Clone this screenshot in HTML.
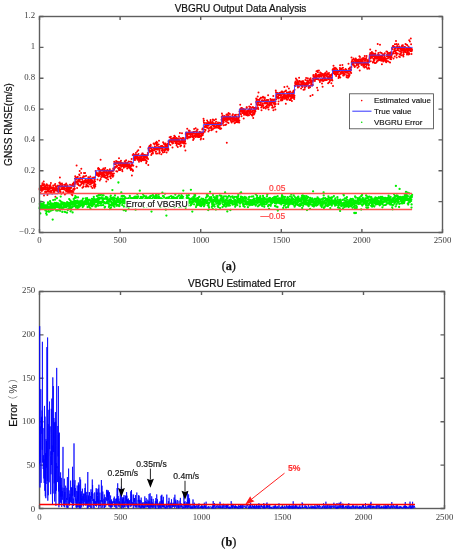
<!DOCTYPE html><html><head><meta charset="utf-8"><style>html,body{margin:0;padding:0;background:#fff;}svg{display:block;}.tk{font-family:"Liberation Serif",serif;font-size:8.8px;fill:#3c3c3c;}.ti{font-family:"Liberation Sans",sans-serif;font-size:10px;fill:#111;stroke:#111;stroke-width:0.2px;}.lg{font-family:"Liberation Sans",sans-serif;font-size:8px;fill:#111;stroke:#111;stroke-width:0.15px;}.an{font-family:"Liberation Sans",sans-serif;font-size:8.6px;fill:#1a1a1a;stroke:#1a1a1a;stroke-width:0.2px;}</style></head><body><svg width="455" height="550" viewBox="0 0 455 550"><rect width="455" height="550" fill="#fff"/><path d="M39.5 188.9h0M39.7 189.8h0M39.8 188.1h0M40 186.3h0M40.1 187.6h0M40.3 186h0M40.5 189.1h0M40.6 192.9h0M40.8 206.6h0M40.9 187.1h0M41.1 190.4h0M41.3 190h0M41.4 189.2h0M41.6 186.1h0M41.7 188.8h0M41.9 191h0M42.1 184.9h0M42.2 187.6h0M42.4 183.2h0M42.6 185.1h0M42.7 183.4h0M42.9 188.2h0M43 185.1h0M43.2 189.7h0M43.4 189.4h0M43.5 188.4h0M43.7 181.4h0M43.8 187.3h0M44 195.6h0M44.2 189.3h0M44.3 184.3h0M44.5 187.5h0M44.6 186h0M44.8 186.5h0M45 192.1h0M45.1 186.5h0M45.3 188.8h0M45.4 191.6h0M45.6 187.2h0M45.8 188.6h0M45.9 189.3h0M46.1 189.1h0M46.2 185.3h0M46.4 189.2h0M46.6 193h0M46.7 184.3h0M46.9 191.5h0M47.1 189.3h0M47.2 187h0M47.4 194.9h0M47.5 191.2h0M47.7 185.3h0M47.9 189.2h0M48 190.7h0M48.2 188.4h0M48.3 191h0M48.5 188.7h0M48.7 190.9h0M48.8 193.2h0M49 186.9h0M49.1 189.5h0M49.3 187.5h0M49.5 189.3h0M49.6 185.4h0M49.8 187.2h0M49.9 188.3h0M50.1 191.6h0M50.3 192.4h0M50.4 185h0M50.6 186.5h0M50.7 190.9h0M50.9 183h0M51.1 187.5h0M51.2 188.6h0M51.4 192.7h0M51.6 191h0M51.7 187.9h0M51.9 187.8h0M52 188.2h0M52.2 193.5h0M52.4 187.6h0M52.5 188h0M52.7 190h0M52.8 188.6h0M53 188.3h0M53.2 185.6h0M53.3 188.9h0M53.5 187.6h0M53.6 192.4h0M53.8 190.9h0M54 188.9h0M54.1 190.9h0M54.3 187.9h0M54.4 192.1h0M54.6 188.9h0M54.8 190.7h0M54.9 185.1h0M55.1 190h0M55.2 183.9h0M55.4 196.8h0M55.6 188h0M55.7 186.2h0M55.9 189.4h0M56 189.4h0M56.2 186.4h0M56.4 187.1h0M56.5 189.5h0M56.7 190.4h0M56.9 188.4h0M57 188.3h0M57.2 191h0M57.3 190.5h0M57.5 185.8h0M57.7 188.7h0M57.8 189h0M58 185.8h0M58.1 189.7h0M58.3 186.5h0M58.5 192.3h0M58.6 189.8h0M58.8 189.5h0M58.9 187.3h0M59.1 188.8h0M59.3 182.8h0M59.4 185.6h0M59.6 190.4h0M59.7 182.4h0M59.9 177.4h0M60.1 183.6h0M60.2 191.6h0M60.4 186.5h0M60.5 191.7h0M60.7 189.6h0M60.9 184.3h0M61 193.2h0M61.2 193.8h0M61.4 189h0M61.5 188.3h0M61.7 188.7h0M61.8 186.1h0M62 183.6h0M62.2 187.5h0M62.3 189.1h0M62.5 186.7h0M62.6 187.2h0M62.8 185.1h0M63 193.2h0M63.1 188.7h0M63.3 192.3h0M63.4 189.3h0M63.6 187h0M63.8 188.2h0M63.9 187.4h0M64.1 189.2h0M64.2 188h0M64.4 188.3h0M64.6 184.8h0M64.7 186.6h0M64.9 194.5h0M65 185.5h0M65.2 185.8h0M65.4 190.3h0M65.5 193.7h0M65.7 184.6h0M65.9 188.5h0M66 184.7h0M66.2 183.6h0M66.3 191.6h0M66.5 189.1h0M66.7 189.4h0M66.8 186.8h0M67 190.7h0M67.1 187.5h0M67.3 188.8h0M67.5 185.7h0M67.6 185.3h0M67.8 192h0M67.9 187.6h0M68.1 190.1h0M68.3 189.1h0M68.4 187.8h0M68.6 187.6h0M68.7 191.2h0M68.9 188.2h0M69.1 188.7h0M69.2 189.3h0M69.4 193h0M69.5 191.4h0M69.7 190.4h0M69.9 187.4h0M70 184.8h0M70.2 192.3h0M70.3 192.3h0M70.5 188.8h0M70.7 190.9h0M70.8 191.7h0M71 191.9h0M71.2 192.2h0M71.3 187.8h0M71.5 194.1h0M71.6 185.2h0M71.8 192h0M72 190.8h0M72.1 192h0M72.3 195.2h0M72.4 194h0M72.6 185.5h0M72.8 183.8h0M72.9 191.8h0M73.1 186h0M73.2 189.2h0M73.4 191.9h0M73.6 184h0M73.7 182.5h0M73.9 190h0M74 189.4h0M74.2 188.4h0M74.4 189.3h0M74.5 186.5h0M74.7 184.4h0M74.8 188.7h0M75 178.4h0M75.2 176.2h0M75.3 183.1h0M75.5 181.3h0M75.7 182.8h0M75.8 178.3h0M76 179.4h0M76.1 178.3h0M76.3 178.7h0M76.5 182.1h0M76.6 165.4h0M76.8 182.6h0M76.9 182.6h0M77.1 188h0M77.3 177h0M77.4 184.3h0M77.6 181.2h0M77.7 181.5h0M77.9 176.9h0M78.1 180h0M78.2 183.9h0M78.4 181.2h0M78.5 181.8h0M78.7 180.6h0M78.9 185.2h0M79 181.4h0M79.2 174.5h0M79.3 179.3h0M79.5 175.2h0M79.7 171.1h0M79.8 179.8h0M80 185.8h0M80.2 181.7h0M80.3 177.7h0M80.5 178.5h0M80.6 185.1h0M80.8 182h0M81 181.7h0M81.1 172.9h0M81.3 168.7h0M81.4 184.1h0M81.6 183.3h0M81.8 182.2h0M81.9 178.2h0M82.1 183.1h0M82.2 179.3h0M82.4 187.7h0M82.6 177.4h0M82.7 181.1h0M82.9 181.5h0M83 177.3h0M83.2 187h0M83.4 186.2h0M83.5 176.3h0M83.7 184h0M83.8 182.7h0M84 173.1h0M84.2 182.3h0M84.3 181.3h0M84.5 181.8h0M84.6 176.6h0M84.8 180.6h0M85 180.9h0M85.1 173.1h0M85.3 182.6h0M85.5 181.5h0M85.6 186.4h0M85.8 179.7h0M85.9 180.3h0M86.1 175.7h0M86.3 186.5h0M86.4 184.6h0M86.6 184.4h0M86.7 185.1h0M86.9 181.9h0M87.1 182.2h0M87.2 180.7h0M87.4 180.8h0M87.5 181.7h0M87.7 186.3h0M87.9 183.3h0M88 181.3h0M88.2 179.6h0M88.3 177.2h0M88.5 186.6h0M88.7 183.1h0M88.8 181.7h0M89 180.4h0M89.1 178h0M89.3 181.3h0M89.5 184.3h0M89.6 180.2h0M89.8 180.8h0M90 180.8h0M90.1 181.9h0M90.3 176.4h0M90.4 180.7h0M90.6 178.8h0M90.8 184.3h0M90.9 179h0M91.1 183.3h0M91.2 186.4h0M91.4 180.5h0M91.6 179.6h0M91.7 182.1h0M91.9 181.5h0M92 178.3h0M92.2 183h0M92.4 187.9h0M92.5 180.7h0M92.7 180.9h0M92.8 178.2h0M93 182.5h0M93.2 177.5h0M93.3 178h0M93.5 185.6h0M93.6 178.6h0M93.8 185h0M94 186.4h0M94.1 182.3h0M94.3 183.3h0M94.5 187.7h0M94.6 180.9h0M94.8 179.6h0M94.9 177.2h0M95.1 181.6h0M95.3 186.2h0M95.4 184.6h0M95.6 171h0M95.7 171.2h0M95.9 172.3h0M96.1 174.7h0M96.2 173.2h0M96.4 174.4h0M96.5 174.7h0M96.7 172.9h0M96.9 173.7h0M97 174.4h0M97.2 173.5h0M97.3 175.3h0M97.5 179.4h0M97.7 173.3h0M97.8 174h0M98 168.7h0M98.1 174.9h0M98.3 167.9h0M98.5 169.6h0M98.6 176.3h0M98.8 175.9h0M98.9 173.3h0M99.1 168.7h0M99.3 172.7h0M99.4 171.7h0M99.6 175.7h0M99.8 180.6h0M99.9 174.4h0M100.1 171.4h0M100.2 170.3h0M100.4 173.6h0M100.6 159.8h0M100.7 179h0M100.9 174.1h0M101 170.3h0M101.2 177.1h0M101.4 177h0M101.5 177h0M101.7 172.4h0M101.8 175.3h0M102 174.4h0M102.2 172.6h0M102.3 172.8h0M102.5 169.9h0M102.6 169.5h0M102.8 176.2h0M103 173.2h0M103.1 174.4h0M103.3 176.8h0M103.4 168.6h0M103.6 171.4h0M103.8 174.3h0M103.9 175h0M104.1 172.7h0M104.3 176.9h0M104.4 174.4h0M104.6 170.1h0M104.7 171h0M104.9 176.2h0M105.1 175.2h0M105.2 168.1h0M105.4 177.8h0M105.5 175.6h0M105.7 177.8h0M105.9 172.6h0M106 172.9h0M106.2 170.4h0M106.3 181.4h0M106.5 173.3h0M106.7 178.5h0M106.8 171.8h0M107 174.3h0M107.1 175.3h0M107.3 172.6h0M107.5 176.7h0M107.6 170h0M107.8 177h0M107.9 174.8h0M108.1 179.4h0M108.3 172.3h0M108.4 172.4h0M108.6 173.6h0M108.7 172.2h0M108.9 171.3h0M109.1 172.9h0M109.2 170.7h0M109.4 170.8h0M109.6 173.6h0M109.7 176.4h0M109.9 169.2h0M110 173.8h0M110.2 171.8h0M110.4 170.9h0M110.5 176.3h0M110.7 172.2h0M110.8 178.3h0M111 171.4h0M111.2 174.9h0M111.3 173.1h0M111.5 171.5h0M111.6 175.5h0M111.8 173.3h0M112 175.6h0M112.1 173.6h0M112.3 170.5h0M112.4 173.5h0M112.6 173.9h0M112.8 176.7h0M112.9 171.1h0M113.1 173.7h0M113.2 168.6h0M113.4 175.7h0M113.6 170.5h0M113.7 168.4h0M113.9 173.6h0M114.1 169.2h0M114.2 161.8h0M114.4 163h0M114.5 164h0M114.7 162.9h0M114.9 167.1h0M115 163.8h0M115.2 164.1h0M115.3 167.7h0M115.5 164h0M115.7 167.3h0M115.8 163.4h0M116 162.7h0M116.1 160.9h0M116.3 171.3h0M116.5 165.2h0M116.6 166.8h0M116.8 166h0M116.9 166.5h0M117.1 166.2h0M117.3 171.4h0M117.4 163.2h0M117.6 161.7h0M117.7 163.3h0M117.9 162.3h0M118.1 168.2h0M118.2 168.4h0M118.4 163.4h0M118.6 162.2h0M118.7 165.1h0M118.9 170h0M119 158.2h0M119.2 167.5h0M119.4 163.1h0M119.5 168.6h0M119.7 163.1h0M119.8 165.3h0M120 161.9h0M120.2 163.3h0M120.3 170h0M120.5 168.4h0M120.6 164.9h0M120.8 163.6h0M121 160.8h0M121.1 166.8h0M121.3 166h0M121.4 165.8h0M121.6 165.8h0M121.8 162.8h0M121.9 165.9h0M122.1 166h0M122.2 169.7h0M122.4 171.3h0M122.6 164.5h0M122.7 163.9h0M122.9 165.9h0M123 164.4h0M123.2 164h0M123.4 165.9h0M123.5 163.2h0M123.7 167.8h0M123.9 165.8h0M124 166.8h0M124.2 165.6h0M124.3 164h0M124.5 163.4h0M124.7 161.2h0M124.8 164.5h0M125 166.7h0M125.1 166.1h0M125.3 162.3h0M125.5 166.3h0M125.6 162.3h0M125.8 164.3h0M125.9 165.2h0M126.1 160.3h0M126.3 166.3h0M126.4 166.5h0M126.6 165.6h0M126.7 164.9h0M126.9 165h0M127.1 163.3h0M127.2 168.6h0M127.4 164.5h0M127.5 166.3h0M127.7 162.7h0M127.9 166.7h0M128 166.5h0M128.2 165.7h0M128.4 164.8h0M128.5 167.6h0M128.7 161.4h0M128.8 167.4h0M129 166.8h0M129.2 166.9h0M129.3 167.1h0M129.5 164.2h0M129.6 165.3h0M129.8 167.9h0M130 167.3h0M130.1 166.7h0M130.3 161.8h0M130.4 167.6h0M130.6 169.3h0M130.8 169.9h0M130.9 166.7h0M131.1 161.7h0M131.2 168.7h0M131.4 165.7h0M131.6 159h0M131.7 164.3h0M131.9 175.6h0M132 162.4h0M132.2 164.3h0M132.4 169.6h0M132.5 165h0M132.7 155h0M132.9 171h0M133 170.5h0M133.2 165.8h0M133.3 165.4h0M133.5 154.1h0M133.7 155.6h0M133.8 158.5h0M134 158.4h0M134.1 157.6h0M134.3 159.9h0M134.5 155.3h0M134.6 157.2h0M134.8 159.3h0M134.9 158.9h0M135.1 160.1h0M135.3 158.4h0M135.4 156.6h0M135.6 158.3h0M135.7 154.8h0M135.9 153.1h0M136.1 155.2h0M136.2 157.2h0M136.4 158.2h0M136.5 166.8h0M136.7 156.4h0M136.9 155.8h0M137 155.1h0M137.2 151.5h0M137.3 156.5h0M137.5 159.7h0M137.7 158.3h0M137.8 155.8h0M138 157.3h0M138.2 159.3h0M138.3 150.2h0M138.5 154h0M138.6 158.8h0M138.8 159.1h0M139 161.8h0M139.1 160.3h0M139.3 158.2h0M139.4 158.1h0M139.6 159.4h0M139.8 156h0M139.9 157.3h0M140.1 159.7h0M140.2 146.9h0M140.4 156.9h0M140.6 157.2h0M140.7 157.9h0M140.9 160.8h0M141 157.3h0M141.2 161.2h0M141.4 154.8h0M141.5 156.9h0M141.7 156.8h0M141.8 159.4h0M142 160.1h0M142.2 153.4h0M142.3 155h0M142.5 158.2h0M142.7 155.6h0M142.8 153.4h0M143 160.1h0M143.1 158.6h0M143.3 158.6h0M143.5 156.1h0M143.6 160h0M143.8 156.7h0M143.9 160.2h0M144.1 155h0M144.3 155.1h0M144.4 157.9h0M144.6 155.5h0M144.7 159.1h0M144.9 158h0M145.1 155h0M145.2 157.5h0M145.4 156.4h0M145.5 159.7h0M145.7 155.7h0M145.9 156.2h0M146 160.5h0M146.2 163.2h0M146.3 162.6h0M146.5 157.5h0M146.7 157.9h0M146.8 161.3h0M147 157h0M147.2 154.8h0M147.3 157.7h0M147.5 158.5h0M147.6 155.2h0M147.8 153.1h0M148 153.6h0M148.1 159.1h0M148.3 165h0M148.4 148.3h0M148.6 149.2h0M148.8 150.2h0M148.9 147.8h0M149.1 149.9h0M149.2 146.4h0M149.4 147.7h0M149.6 146.1h0M149.7 151.5h0M149.9 152.1h0M150 146.8h0M150.2 147.8h0M150.4 148.1h0M150.5 150.4h0M150.7 144.7h0M150.8 146h0M151 147.7h0M151.2 155h0M151.3 151h0M151.5 148.4h0M151.6 150.4h0M151.8 153.8h0M152 148.1h0M152.1 147.7h0M152.3 151.7h0M152.5 149.9h0M152.6 150.3h0M152.8 147.4h0M152.9 153.5h0M153.1 152.9h0M153.3 150.1h0M153.4 150.4h0M153.6 143.6h0M153.7 150.2h0M153.9 148.2h0M154.1 149.7h0M154.2 150.3h0M154.4 147.8h0M154.5 144.4h0M154.7 149.6h0M154.9 146.8h0M155 147.8h0M155.2 147.1h0M155.3 147.8h0M155.5 142.9h0M155.7 151.7h0M155.8 149.3h0M156 151.4h0M156.1 153.6h0M156.3 148.7h0M156.5 144.1h0M156.6 141.7h0M156.8 145.6h0M157 147.4h0M157.1 153.5h0M157.3 142.7h0M157.4 149.5h0M157.6 144.9h0M157.8 149.4h0M157.9 148.4h0M158.1 147.9h0M158.2 148.5h0M158.4 147.3h0M158.6 147.1h0M158.7 144.4h0M158.9 148.6h0M159 140.8h0M159.2 153.6h0M159.4 151.9h0M159.5 150.4h0M159.7 147h0M159.8 152.2h0M160 148.5h0M160.2 148.5h0M160.3 147.9h0M160.5 147.9h0M160.6 147.6h0M160.8 148.4h0M161 145.9h0M161.1 147.7h0M161.3 154.3h0M161.5 148.5h0M161.6 148h0M161.8 146h0M161.9 150.4h0M162.1 145.9h0M162.3 148.1h0M162.4 150.9h0M162.6 149.3h0M162.7 148.9h0M162.9 152.5h0M163.1 142.3h0M163.2 146.7h0M163.4 147.3h0M163.5 142.8h0M163.7 143.8h0M163.9 147h0M164 147.3h0M164.2 150.3h0M164.3 150.2h0M164.5 152.1h0M164.7 144.7h0M164.8 150.5h0M165 147.9h0M165.1 147h0M165.3 150h0M165.5 146.3h0M165.6 143.5h0M165.8 147.7h0M165.9 144.9h0M166.1 147h0M166.3 149.6h0M166.4 149.4h0M166.6 152.6h0M166.8 148.1h0M166.9 144.8h0M167.1 146.8h0M167.2 146.3h0M167.4 145.6h0M167.6 149.7h0M167.7 147h0M167.9 143.7h0M168 150.4h0M168.2 148.4h0M168.4 149.5h0M168.5 141.2h0M168.7 142.5h0M168.8 141h0M169 144h0M169.2 142h0M169.3 141.9h0M169.5 142h0M169.6 137.3h0M169.8 140.5h0M170 140.3h0M170.1 141.4h0M170.3 141.5h0M170.4 145h0M170.6 141.2h0M170.8 137.9h0M170.9 136.7h0M171.1 140.2h0M171.3 140.7h0M171.4 139.1h0M171.6 141.2h0M171.7 139.3h0M171.9 142.3h0M172.1 139.1h0M172.2 140.8h0M172.4 143.4h0M172.5 147.4h0M172.7 138.4h0M172.9 139.8h0M173 138.8h0M173.2 142.9h0M173.3 138.1h0M173.5 139.7h0M173.7 140.9h0M173.8 138.5h0M174 138.5h0M174.1 139.7h0M174.3 135.7h0M174.5 137.3h0M174.6 139.9h0M174.8 141.3h0M174.9 140.5h0M175.1 136.5h0M175.3 139.8h0M175.4 142.9h0M175.6 141h0M175.8 140.7h0M175.9 138.7h0M176.1 142.5h0M176.2 139.5h0M176.4 138h0M176.6 145.6h0M176.7 144.5h0M176.9 141.5h0M177 143.8h0M177.2 139.7h0M177.4 143.3h0M177.5 139.4h0M177.7 140.5h0M177.8 147.1h0M178 138.4h0M178.2 139.7h0M178.3 140.7h0M178.5 141.7h0M178.6 144h0M178.8 139.7h0M179 136.6h0M179.1 140.2h0M179.3 141h0M179.4 141.2h0M179.6 144.2h0M179.8 141.7h0M179.9 133.1h0M180.1 138.2h0M180.2 143.1h0M180.4 146.2h0M180.6 142.9h0M180.7 141.6h0M180.9 141.3h0M181.1 145.4h0M181.2 138.6h0M181.4 140.7h0M181.5 142.1h0M181.7 142.8h0M181.9 139.8h0M182 133.2h0M182.2 140.2h0M182.3 141.2h0M182.5 140.6h0M182.7 138.1h0M182.8 140.9h0M183 143.1h0M183.1 138.5h0M183.3 140.3h0M183.5 142.6h0M183.6 138.3h0M183.8 141.4h0M183.9 138.3h0M184.1 143.8h0M184.3 146.7h0M184.4 146h0M184.6 140.4h0M184.7 142.8h0M184.9 141.2h0M185.1 141.2h0M185.2 139.7h0M185.4 150.4h0M185.6 143.6h0M185.7 134.1h0M185.9 137.9h0M186 134.7h0M186.2 132.5h0M186.4 134.9h0M186.5 136.1h0M186.7 134.3h0M186.8 135.5h0M187 132.9h0M187.2 128.7h0M187.3 136.6h0M187.5 136h0M187.6 138.5h0M187.8 134.4h0M188 136.9h0M188.1 133h0M188.3 132.4h0M188.4 133.7h0M188.6 137.3h0M188.8 130.6h0M188.9 137.3h0M189.1 132.6h0M189.2 131.4h0M189.4 137.5h0M189.6 134h0M189.7 130.8h0M189.9 133.3h0M190.1 136.6h0M190.2 137.3h0M190.4 133.1h0M190.5 135.3h0M190.7 136.1h0M190.9 132.5h0M191 135.1h0M191.2 134.1h0M191.3 132.8h0M191.5 132.9h0M191.7 134.4h0M191.8 134.3h0M192 132.7h0M192.1 133.1h0M192.3 137.1h0M192.5 134.8h0M192.6 136.5h0M192.8 137.3h0M192.9 135.7h0M193.1 140.1h0M193.3 132.1h0M193.4 136.3h0M193.6 133.4h0M193.7 139h0M193.9 138.6h0M194.1 129.1h0M194.2 131.7h0M194.4 135.9h0M194.5 136.3h0M194.7 136.1h0M194.9 134h0M195 135.4h0M195.2 135.9h0M195.4 134h0M195.5 136.9h0M195.7 128.3h0M195.8 135.9h0M196 131.5h0M196.2 136.7h0M196.3 133.6h0M196.5 131.9h0M196.6 135.2h0M196.8 131.8h0M197 131.8h0M197.1 130.1h0M197.3 134.1h0M197.4 135.5h0M197.6 129.6h0M197.8 133.8h0M197.9 136.9h0M198.1 134.3h0M198.2 134h0M198.4 135.7h0M198.6 137h0M198.7 133.3h0M198.9 133.6h0M199 133.8h0M199.2 134.4h0M199.4 131.9h0M199.5 136.9h0M199.7 133.2h0M199.9 135.4h0M200 132.1h0M200.2 135.1h0M200.3 135.2h0M200.5 133.1h0M200.7 139.5h0M200.8 135.2h0M201 138.8h0M201.1 136.7h0M201.3 132.5h0M201.5 133.2h0M201.6 135.3h0M201.8 134.4h0M201.9 134.3h0M202.1 133.5h0M202.3 129.5h0M202.4 133.6h0M202.6 128.4h0M202.7 135.2h0M202.9 132.3h0M203.1 132.4h0M203.2 133.6h0M203.4 139.1h0M203.5 118.7h0M203.7 121.1h0M203.9 122.8h0M204 120.4h0M204.2 123.1h0M204.4 129.5h0M204.5 122.9h0M204.7 127.1h0M204.8 131.8h0M205 126.2h0M205.2 124.7h0M205.3 125.4h0M205.5 126.9h0M205.6 129.9h0M205.8 126h0M206 125.8h0M206.1 123.1h0M206.3 127h0M206.4 124.9h0M206.6 127.6h0M206.8 125.4h0M206.9 123.4h0M207.1 120.5h0M207.2 124.8h0M207.4 127.7h0M207.6 124.6h0M207.7 123.5h0M207.9 124.8h0M208 122.1h0M208.2 125.8h0M208.4 131.6h0M208.5 128.4h0M208.7 122.7h0M208.8 123.3h0M209 124.5h0M209.2 130.3h0M209.3 123.4h0M209.5 123.8h0M209.7 127.7h0M209.8 127.7h0M210 124.6h0M210.1 122.7h0M210.3 121.6h0M210.5 123.8h0M210.6 119.9h0M210.8 127.4h0M210.9 123.9h0M211.1 126.7h0M211.3 130.2h0M211.4 128.4h0M211.6 122.6h0M211.7 127.7h0M211.9 128.4h0M212.1 123.6h0M212.2 123.1h0M212.4 125.2h0M212.5 121.5h0M212.7 129.5h0M212.9 119.5h0M213 122.7h0M213.2 124.8h0M213.3 124.9h0M213.5 124h0M213.7 126.2h0M213.8 125h0M214 128.3h0M214.2 120.2h0M214.3 125.5h0M214.5 123.7h0M214.6 125.8h0M214.8 126.1h0M215 123.2h0M215.1 123.9h0M215.3 127.5h0M215.4 126.4h0M215.6 123.8h0M215.8 127.7h0M215.9 119.3h0M216.1 121.8h0M216.2 126.3h0M216.4 131.8h0M216.6 127.5h0M216.7 126.1h0M216.9 125h0M217 124.1h0M217.2 125h0M217.4 124.1h0M217.5 127.4h0M217.7 124.5h0M217.8 124.4h0M218 122.5h0M218.2 125.4h0M218.3 123.3h0M218.5 125h0M218.7 128.1h0M218.8 126.4h0M219 126.8h0M219.1 126.4h0M219.3 125.6h0M219.5 125.2h0M219.6 124.7h0M219.8 127.4h0M219.9 122.8h0M220.1 128.9h0M220.3 125.6h0M220.4 123.6h0M220.6 124.3h0M220.7 123.8h0M220.9 125.3h0M221.1 123.7h0M221.2 128.4h0M221.4 123.5h0M221.5 119.8h0M221.7 116.9h0M221.9 113.6h0M222 118.7h0M222.2 121.5h0M222.3 120.5h0M222.5 115.3h0M222.7 116.8h0M222.8 123.4h0M223 119.6h0M223.1 118.8h0M223.3 121.5h0M223.5 125.2h0M223.6 122.2h0M223.8 119.1h0M224 119.7h0M224.1 120.4h0M224.3 117.2h0M224.4 116h0M224.6 118.9h0M224.8 116.3h0M224.9 118.6h0M225.1 119h0M225.2 124.9h0M225.4 116.6h0M225.6 118.5h0M225.7 118.4h0M225.9 119.9h0M226 121.5h0M226.2 124.5h0M226.4 116.7h0M226.5 114.5h0M226.7 116.4h0M226.8 142.7h0M227 118.9h0M227.2 116.1h0M227.3 117.8h0M227.5 122.2h0M227.6 120.1h0M227.8 117.2h0M228 118.1h0M228.1 114.1h0M228.3 115.8h0M228.5 123h0M228.6 113.1h0M228.8 117.9h0M228.9 119.4h0M229.1 117.8h0M229.3 116.7h0M229.4 118.6h0M229.6 118.8h0M229.7 118.6h0M229.9 113.9h0M230.1 118.4h0M230.2 116.6h0M230.4 117.4h0M230.5 119.4h0M230.7 120.5h0M230.9 121.1h0M231 117.5h0M231.2 121.2h0M231.3 121.8h0M231.5 121.7h0M231.7 122.4h0M231.8 118.4h0M232 118.3h0M232.1 120.9h0M232.3 115.2h0M232.5 119.3h0M232.6 117.4h0M232.8 117.8h0M232.9 114.3h0M233.1 116.5h0M233.3 118.7h0M233.4 121.1h0M233.6 121.4h0M233.8 118.6h0M233.9 118.3h0M234.1 116.6h0M234.2 119.8h0M234.4 118.1h0M234.6 120.4h0M234.7 123.3h0M234.9 118.7h0M235 114.9h0M235.2 116.5h0M235.4 115h0M235.5 115.7h0M235.7 122.2h0M235.8 119.4h0M236 114.8h0M236.2 120.5h0M236.3 122.1h0M236.5 117.9h0M236.6 117h0M236.8 117.9h0M237 119.5h0M237.1 120.4h0M237.3 121.9h0M237.4 121.9h0M237.6 121.9h0M237.8 122.3h0M237.9 120.5h0M238.1 114.8h0M238.3 118.4h0M238.4 119.6h0M238.6 117.8h0M238.7 121.2h0M238.9 117.8h0M239.1 116.4h0M239.2 122.5h0M239.4 120.5h0M239.5 111.6h0M239.7 113.5h0M239.9 113.8h0M240 112h0M240.2 104.7h0M240.3 109.3h0M240.5 109.9h0M240.7 108.5h0M240.8 111.6h0M241 114.2h0M241.1 109.8h0M241.3 108.1h0M241.5 116.3h0M241.6 109.9h0M241.8 107.9h0M241.9 111.7h0M242.1 112.2h0M242.3 109.2h0M242.4 113.1h0M242.6 109.8h0M242.8 108.7h0M242.9 111.5h0M243.1 113.1h0M243.2 109.4h0M243.4 111.9h0M243.6 110.8h0M243.7 118.4h0M243.9 109.2h0M244 114.7h0M244.2 110.9h0M244.4 110.7h0M244.5 112.9h0M244.7 113.4h0M244.8 114.4h0M245 111.9h0M245.2 109.5h0M245.3 109.7h0M245.5 112.4h0M245.6 112.6h0M245.8 114.7h0M246 112.2h0M246.1 113.8h0M246.3 115h0M246.4 111.5h0M246.6 107.2h0M246.8 108h0M246.9 107.3h0M247.1 115.2h0M247.2 110.8h0M247.4 114.3h0M247.6 112.6h0M247.7 115.5h0M247.9 113.7h0M248.1 110.8h0M248.2 110.6h0M248.4 111.3h0M248.5 111.5h0M248.7 109.7h0M248.9 111h0M249 115.3h0M249.2 106.6h0M249.3 111.7h0M249.5 108.7h0M249.7 111.6h0M249.8 113.3h0M250 110.9h0M250.1 113.1h0M250.3 106.9h0M250.5 113.9h0M250.6 109.5h0M250.8 112.7h0M250.9 111.5h0M251.1 104.3h0M251.3 109.1h0M251.4 111.6h0M251.6 115.1h0M251.7 111.8h0M251.9 111.7h0M252.1 107.4h0M252.2 114.8h0M252.4 115.8h0M252.6 111.1h0M252.7 110.5h0M252.9 106.9h0M253 113.4h0M253.2 118.1h0M253.4 112.9h0M253.5 114.4h0M253.7 112.5h0M253.8 108.5h0M254 114.5h0M254.2 107.9h0M254.3 110.5h0M254.5 111.8h0M254.6 113.4h0M254.8 112.2h0M255 112.1h0M255.1 109.1h0M255.3 107.7h0M255.4 111.2h0M255.6 109.2h0M255.8 107.7h0M255.9 107.8h0M256.1 102.1h0M256.2 98.5h0M256.4 99.9h0M256.6 99.1h0M256.7 103.8h0M256.9 104.4h0M257.1 108.6h0M257.2 99.5h0M257.4 101.6h0M257.5 105.7h0M257.7 96.5h0M257.9 102.5h0M258 107.8h0M258.2 102.5h0M258.3 109h0M258.5 92.6h0M258.7 104.2h0M258.8 104.2h0M259 99.8h0M259.1 100.8h0M259.3 104.7h0M259.5 104.9h0M259.6 101.7h0M259.8 105h0M259.9 104.8h0M260.1 98.7h0M260.3 102.5h0M260.4 104.4h0M260.6 101.9h0M260.7 97.8h0M260.9 102.6h0M261.1 105.3h0M261.2 107.5h0M261.4 97.7h0M261.5 110.2h0M261.7 100.4h0M261.9 105.8h0M262 106.6h0M262.2 105.9h0M262.4 103.7h0M262.5 100.3h0M262.7 105h0M262.8 101.5h0M263 96.8h0M263.2 97.7h0M263.3 105.2h0M263.5 108.1h0M263.6 101h0M263.8 107.2h0M264 107.5h0M264.1 107.4h0M264.3 103.3h0M264.4 100.2h0M264.6 102.9h0M264.8 97.6h0M264.9 98.9h0M265.1 103.6h0M265.2 100.8h0M265.4 102.9h0M265.6 103.1h0M265.7 108.4h0M265.9 106.7h0M266 103.2h0M266.2 106.5h0M266.4 101.3h0M266.5 102.5h0M266.7 105.7h0M266.9 100.1h0M267 102.6h0M267.2 99.9h0M267.3 103.7h0M267.5 107.6h0M267.7 101.4h0M267.8 103.9h0M268 104.7h0M268.1 95.3h0M268.3 100.1h0M268.5 107.1h0M268.6 109.5h0M268.8 104.6h0M268.9 101.5h0M269.1 105.2h0M269.3 102.5h0M269.4 105.4h0M269.6 104.1h0M269.7 104.1h0M269.9 104.9h0M270.1 101.9h0M270.2 102.3h0M270.4 98.9h0M270.5 102.2h0M270.7 99.7h0M270.9 103h0M271 100.9h0M271.2 103.6h0M271.4 104.5h0M271.5 99.7h0M271.7 101.2h0M271.8 100.9h0M272 105.3h0M272.2 107.8h0M272.3 105.6h0M272.5 102.4h0M272.6 107.2h0M272.8 99.4h0M273 107.3h0M273.1 101.7h0M273.3 96.1h0M273.4 110.2h0M273.6 107.5h0M273.8 100.7h0M273.9 103.8h0M274.1 102.8h0M274.2 103.6h0M274.4 99.5h0M274.6 101.6h0M274.7 104.6h0M274.9 103.9h0M275 106.5h0M275.2 103.6h0M275.4 109.5h0M275.5 101.5h0M275.7 104h0M275.8 90.5h0M276 92.3h0M276.2 99.2h0M276.3 93.1h0M276.5 97.1h0M276.7 95.5h0M276.8 92.8h0M277 94.7h0M277.1 94.3h0M277.3 94.3h0M277.5 97.7h0M277.6 97.4h0M277.8 94.1h0M277.9 93.2h0M278.1 96.4h0M278.3 104.1h0M278.4 98.4h0M278.6 101.4h0M278.7 97.9h0M278.9 95.5h0M279.1 95.2h0M279.2 93.3h0M279.4 93.2h0M279.5 92.9h0M279.7 94.6h0M279.9 94.5h0M280 97.7h0M280.2 94.6h0M280.3 95.1h0M280.5 92.4h0M280.7 100.1h0M280.8 97h0M281 100.5h0M281.2 97.8h0M281.3 99.7h0M281.5 95h0M281.6 97.6h0M281.8 91.4h0M282 92.3h0M282.1 91.5h0M282.3 100.2h0M282.4 96.8h0M282.6 97.7h0M282.8 99.1h0M282.9 93.8h0M283.1 96.8h0M283.2 93.2h0M283.4 93.8h0M283.6 93.9h0M283.7 95.2h0M283.9 96h0M284 96.9h0M284.2 91.7h0M284.4 86.9h0M284.5 98.8h0M284.7 97.7h0M284.8 94.7h0M285 95.4h0M285.2 97.2h0M285.3 96.8h0M285.5 91h0M285.7 97.7h0M285.8 103.7h0M286 90.5h0M286.1 98.4h0M286.3 96.7h0M286.5 95.3h0M286.6 99.4h0M286.8 92.4h0M286.9 96.1h0M287.1 99.7h0M287.3 86.4h0M287.4 94.5h0M287.6 96h0M287.7 94.4h0M287.9 97.5h0M288.1 98.6h0M288.2 97h0M288.4 92.2h0M288.5 97.5h0M288.7 95.4h0M288.9 88.5h0M289 96.5h0M289.2 92.7h0M289.3 94.4h0M289.5 99.9h0M289.7 92.5h0M289.8 92.7h0M290 99.6h0M290.1 91.5h0M290.3 99.9h0M290.5 96.5h0M290.6 93.2h0M290.8 95.5h0M291 99.1h0M291.1 98.3h0M291.3 95.6h0M291.4 95.8h0M291.6 95.3h0M291.8 94h0M291.9 101h0M292.1 97h0M292.2 92.5h0M292.4 94.3h0M292.6 97.7h0M292.7 97.4h0M292.9 95.3h0M293 93.8h0M293.2 95.7h0M293.4 91h0M293.5 92h0M293.7 97.9h0M293.8 94.3h0M294 96.7h0M294.2 99h0M294.3 97.4h0M294.5 95.7h0M294.6 89.8h0M294.8 85.8h0M295 82.9h0M295.1 86h0M295.3 85.1h0M295.5 81.6h0M295.6 84.1h0M295.8 83.5h0M295.9 78.5h0M296.1 83.4h0M296.3 83.1h0M296.4 82.7h0M296.6 79.4h0M296.7 82.9h0M296.9 83.8h0M297.1 84.2h0M297.2 80.8h0M297.4 85.7h0M297.5 80.6h0M297.7 83.3h0M297.9 87.6h0M298 82h0M298.2 82.5h0M298.3 86.9h0M298.5 82.9h0M298.7 83.1h0M298.8 84.5h0M299 86.8h0M299.1 77.8h0M299.3 81.6h0M299.5 81.1h0M299.6 80.9h0M299.8 81.6h0M300 81.6h0M300.1 84.8h0M300.3 81.5h0M300.4 84.3h0M300.6 85h0M300.8 81.9h0M300.9 84.3h0M301.1 88.5h0M301.2 84.8h0M301.4 82.2h0M301.6 83.7h0M301.7 81.4h0M301.9 84.7h0M302 86.3h0M302.2 81.7h0M302.4 83.4h0M302.5 87h0M302.7 82.6h0M302.8 84.4h0M303 81.1h0M303.2 81.7h0M303.3 82.5h0M303.5 89.8h0M303.6 82.8h0M303.8 82.5h0M304 82.4h0M304.1 83.5h0M304.3 85.7h0M304.4 84.4h0M304.6 89.5h0M304.8 84.5h0M304.9 87.8h0M305.1 84.7h0M305.3 85.6h0M305.4 80h0M305.6 83.6h0M305.7 83.7h0M305.9 83.3h0M306.1 78.1h0M306.2 86.3h0M306.4 82.9h0M306.5 82.7h0M306.7 83.2h0M306.9 83.3h0M307 85h0M307.2 80.5h0M307.3 81.4h0M307.5 84.7h0M307.7 84.3h0M307.8 78.3h0M308 82.4h0M308.1 81.7h0M308.3 83.8h0M308.5 87.1h0M308.6 81.1h0M308.8 88h0M308.9 86.2h0M309.1 82.7h0M309.3 86h0M309.4 80h0M309.6 79.3h0M309.8 80.4h0M309.9 82.8h0M310.1 87.2h0M310.2 82.5h0M310.4 96h0M310.6 78.2h0M310.7 85.3h0M310.9 80.1h0M311 82.1h0M311.2 82.8h0M311.4 80.8h0M311.5 80.2h0M311.7 81.2h0M311.8 83.9h0M312 85.5h0M312.2 85.5h0M312.3 81.2h0M312.5 81.8h0M312.6 95.1h0M312.8 85.1h0M313 78.4h0M313.1 80.6h0M313.3 75.9h0M313.4 75.1h0M313.6 78.1h0M313.8 80h0M313.9 78.1h0M314.1 80.1h0M314.3 77.6h0M314.4 80.5h0M314.6 76.6h0M314.7 76.9h0M314.9 81.1h0M315.1 77.7h0M315.2 77.4h0M315.4 74.7h0M315.5 76.4h0M315.7 79.3h0M315.9 73.7h0M316 79h0M316.2 77.4h0M316.3 78h0M316.5 71.3h0M316.7 76.9h0M316.8 79h0M317 75.2h0M317.1 87.7h0M317.3 70.8h0M317.5 79h0M317.6 75.4h0M317.8 90.2h0M317.9 72.2h0M318.1 79.1h0M318.3 76.6h0M318.4 79.4h0M318.6 74.7h0M318.7 75.5h0M318.9 70.4h0M319.1 75h0M319.2 76.9h0M319.4 76.5h0M319.6 74.5h0M319.7 80.4h0M319.9 81.9h0M320 75.3h0M320.2 72.6h0M320.4 80.4h0M320.5 80.2h0M320.7 79.4h0M320.8 80.3h0M321 74.9h0M321.2 76.8h0M321.3 73.5h0M321.5 73.4h0M321.6 79.9h0M321.8 75.4h0M322 83.4h0M322.1 80.8h0M322.3 75.5h0M322.4 79.4h0M322.6 86.8h0M322.8 78.5h0M322.9 73.9h0M323.1 78.2h0M323.2 80.9h0M323.4 75.9h0M323.6 75.1h0M323.7 80h0M323.9 77.6h0M324.1 74.2h0M324.2 76.2h0M324.4 75.2h0M324.5 78h0M324.7 77.5h0M324.9 80.3h0M325 79.1h0M325.2 73h0M325.3 78.3h0M325.5 79.6h0M325.7 78.4h0M325.8 80h0M326 75.7h0M326.1 74.6h0M326.3 74.4h0M326.5 74.3h0M326.6 71.4h0M326.8 80h0M326.9 75.3h0M327.1 76.4h0M327.3 73.4h0M327.4 73.6h0M327.6 74.1h0M327.7 76.2h0M327.9 78.2h0M328.1 83.3h0M328.2 79.2h0M328.4 74h0M328.6 74.3h0M328.7 79h0M328.9 77h0M329 73.1h0M329.2 82.2h0M329.4 74.9h0M329.5 77.9h0M329.7 77.8h0M329.8 81h0M330 76h0M330.2 79.9h0M330.3 75.2h0M330.5 80.2h0M330.6 75.2h0M330.8 76.2h0M331 77.6h0M331.1 78.1h0M331.3 77.5h0M331.4 83.3h0M331.6 78.2h0M331.8 75h0M331.9 79.2h0M332.1 74h0M332.2 80.3h0M332.4 80.5h0M332.6 69.9h0M332.7 69.7h0M332.9 72h0M333 86h0M333.2 68.8h0M333.4 73.1h0M333.5 65.8h0M333.7 70.3h0M333.9 70.4h0M334 70.7h0M334.2 72.4h0M334.3 68.1h0M334.5 73.1h0M334.7 74.3h0M334.8 69.7h0M335 67.7h0M335.1 68.2h0M335.3 72.5h0M335.5 68.8h0M335.6 71.7h0M335.8 74.5h0M335.9 74.4h0M336.1 75.9h0M336.3 70.7h0M336.4 68.5h0M336.6 74.4h0M336.7 72.4h0M336.9 70.9h0M337.1 71.5h0M337.2 69.7h0M337.4 73.9h0M337.5 73.5h0M337.7 72.9h0M337.9 72.6h0M338 72.2h0M338.2 72.1h0M338.4 74.3h0M338.5 78.1h0M338.7 76.4h0M338.8 71.2h0M339 74.3h0M339.2 71.2h0M339.3 75.8h0M339.5 77.2h0M339.6 70.6h0M339.8 67.9h0M340 69.5h0M340.1 65.2h0M340.3 77.5h0M340.4 72.1h0M340.6 74.1h0M340.8 68.7h0M340.9 72.5h0M341.1 73.4h0M341.2 73h0M341.4 69.6h0M341.6 73.2h0M341.7 72.3h0M341.9 68.6h0M342 71.4h0M342.2 70.8h0M342.4 65h0M342.5 73.2h0M342.7 73h0M342.9 70.3h0M343 67.8h0M343.2 75.6h0M343.3 72.2h0M343.5 74.3h0M343.7 75.4h0M343.8 70h0M344 73.8h0M344.1 70.8h0M344.3 71.3h0M344.5 71.3h0M344.6 71.5h0M344.8 74.6h0M344.9 71.8h0M345.1 71.1h0M345.3 70.7h0M345.4 72.5h0M345.6 69h0M345.7 70.1h0M345.9 71.4h0M346.1 69.9h0M346.2 71.2h0M346.4 69.8h0M346.5 77.1h0M346.7 75.2h0M346.9 72.8h0M347 71.3h0M347.2 77.6h0M347.3 72.4h0M347.5 71.3h0M347.7 72.3h0M347.8 72.4h0M348 75.4h0M348.2 71.4h0M348.3 77.4h0M348.5 63.7h0M348.6 73.4h0M348.8 68.7h0M349 76.6h0M349.1 70.6h0M349.3 71.3h0M349.4 74.1h0M349.6 75h0M349.8 68.4h0M349.9 70.5h0M350.1 67.6h0M350.2 71.9h0M350.4 71.2h0M350.6 70.5h0M350.7 69.6h0M350.9 70.4h0M351 69.4h0M351.2 73h0M351.4 67h0M351.5 57.4h0M351.7 62.5h0M351.8 61.6h0M352 64.2h0M352.2 60.1h0M352.3 62.4h0M352.5 59.9h0M352.7 64.7h0M352.8 63.1h0M353 62.3h0M353.1 63.8h0M353.3 62.1h0M353.5 58.4h0M353.6 64.5h0M353.8 63.6h0M353.9 62.4h0M354.1 65.5h0M354.3 66.2h0M354.4 59.7h0M354.6 60.6h0M354.7 67.1h0M354.9 66.8h0M355.1 60.7h0M355.2 59.5h0M355.4 61h0M355.5 61.4h0M355.7 58.4h0M355.9 62.9h0M356 59.2h0M356.2 59.4h0M356.3 65.4h0M356.5 60.9h0M356.7 62.6h0M356.8 64.5h0M357 65.1h0M357.1 61.8h0M357.3 62.9h0M357.5 60.5h0M357.6 67.7h0M357.8 64.6h0M358 59.7h0M358.1 62.8h0M358.3 64.8h0M358.4 64.1h0M358.6 59.5h0M358.8 66.6h0M358.9 61.3h0M359.1 62.5h0M359.2 59.2h0M359.4 56.2h0M359.6 63.2h0M359.7 70.4h0M359.9 63.1h0M360 56.9h0M360.2 60.9h0M360.4 63.1h0M360.5 59.3h0M360.7 60.4h0M360.8 61.8h0M361 63.7h0M361.2 62.3h0M361.3 60.3h0M361.5 65h0M361.6 61.3h0M361.8 61.4h0M362 58.9h0M362.1 60.6h0M362.3 64.6h0M362.5 58.3h0M362.6 62.6h0M362.8 64.8h0M362.9 61.7h0M363.1 63.5h0M363.3 59.7h0M363.4 66.5h0M363.6 65.9h0M363.7 63.4h0M363.9 57.9h0M364.1 59.9h0M364.2 65.5h0M364.4 67.6h0M364.5 63.6h0M364.7 56h0M364.9 61.1h0M365 62.3h0M365.2 62.8h0M365.3 64h0M365.5 58.5h0M365.7 59.9h0M365.8 66.5h0M366 59.6h0M366.1 59h0M366.3 58.1h0M366.5 67.2h0M366.6 56.1h0M366.8 65h0M367 63.2h0M367.1 61.5h0M367.3 68.7h0M367.4 63.2h0M367.6 60.7h0M367.8 63.1h0M367.9 59.9h0M368.1 60.7h0M368.2 63.9h0M368.4 61.2h0M368.6 61.5h0M368.7 67.5h0M368.9 65.2h0M369 65h0M369.2 68.8h0M369.4 58.5h0M369.5 61.3h0M369.7 57h0M369.8 54.9h0M370 54.3h0M370.2 49.6h0M370.3 53.1h0M370.5 56.1h0M370.6 58.6h0M370.8 61.3h0M371 55.1h0M371.1 57.1h0M371.3 56h0M371.4 54.9h0M371.6 53.6h0M371.8 57.2h0M371.9 52h0M372.1 57.4h0M372.3 57.1h0M372.4 55.2h0M372.6 54.1h0M372.7 53.1h0M372.9 62.5h0M373.1 53.2h0M373.2 61.6h0M373.4 58.8h0M373.5 56h0M373.7 53.7h0M373.9 60.1h0M374 62.1h0M374.2 54.4h0M374.3 56.2h0M374.5 60.1h0M374.7 58h0M374.8 62.9h0M375 55.4h0M375.1 58.6h0M375.3 53.4h0M375.5 63.1h0M375.6 55h0M375.8 50.7h0M375.9 56.7h0M376.1 56.7h0M376.3 62.6h0M376.4 56.1h0M376.6 57h0M376.8 58.8h0M376.9 61.7h0M377.1 56.9h0M377.2 61.1h0M377.4 58.6h0M377.6 56.2h0M377.7 44.1h0M377.9 57.2h0M378 54.4h0M378.2 60.6h0M378.4 53.1h0M378.5 60.5h0M378.7 59.8h0M378.8 56.8h0M379 54.9h0M379.2 56.4h0M379.3 58.4h0M379.5 59.2h0M379.6 57.9h0M379.8 59.9h0M380 44.7h0M380.1 57.8h0M380.3 52.5h0M380.4 59.3h0M380.6 57.5h0M380.8 55.9h0M380.9 60.4h0M381.1 59.1h0M381.3 60.7h0M381.4 57.2h0M381.6 52.9h0M381.7 60.3h0M381.9 64.3h0M382.1 55.6h0M382.2 57.3h0M382.4 56.3h0M382.5 58.1h0M382.7 58.9h0M382.9 60.8h0M383 54.2h0M383.2 61.6h0M383.3 54.4h0M383.5 57.9h0M383.7 60.4h0M383.8 59.1h0M384 54.3h0M384.1 55h0M384.3 55.7h0M384.5 56.9h0M384.6 60.4h0M384.8 53.3h0M384.9 58.4h0M385.1 58.8h0M385.3 58.7h0M385.4 58.4h0M385.6 61.5h0M385.7 58.5h0M385.9 59.6h0M386.1 58.7h0M386.2 62.3h0M386.4 51.6h0M386.6 60.8h0M386.7 56.3h0M386.9 56.3h0M387 54.3h0M387.2 51.7h0M387.4 56h0M387.5 55.1h0M387.7 58.5h0M387.8 52.8h0M388 61.2h0M388.2 57.9h0M388.3 56.4h0M388.5 55h0M388.6 54.8h0M388.8 53.8h0M389 55.5h0M389.1 57.1h0M389.3 56.6h0M389.4 53h0M389.6 62.2h0M389.8 54.5h0M389.9 57.5h0M390.1 62.5h0M390.2 58.9h0M390.4 56.2h0M390.6 52.4h0M390.7 53h0M390.9 52.2h0M391.1 59.2h0M391.2 54.9h0M391.4 57.3h0M391.5 55.3h0M391.7 57.3h0M391.9 54.8h0M392 48.2h0M392.2 49.3h0M392.3 47.8h0M392.5 53.2h0M392.7 47.1h0M392.8 46.7h0M393 45.9h0M393.1 45.9h0M393.3 51.9h0M393.5 58.6h0M393.6 47.2h0M393.8 53.4h0M393.9 51.2h0M394.1 46.8h0M394.3 49.5h0M394.4 49.6h0M394.6 48.1h0M394.7 56.5h0M394.9 44.3h0M395.1 51.6h0M395.2 51.4h0M395.4 48.5h0M395.6 50.8h0M395.7 53.2h0M395.9 47.3h0M396 41h0M396.2 52.6h0M396.4 43.9h0M396.5 55.1h0M396.7 57.6h0M396.8 53.5h0M397 53.6h0M397.2 45.9h0M397.3 50h0M397.5 47.8h0M397.6 48.5h0M397.8 53.5h0M398 47.8h0M398.1 49.9h0M398.3 44.2h0M398.4 49.9h0M398.6 50.6h0M398.8 48.1h0M398.9 48.1h0M399.1 56.4h0M399.2 46.5h0M399.4 47h0M399.6 47.8h0M399.7 54.2h0M399.9 57.1h0M400 51.4h0M400.2 48.1h0M400.4 49h0M400.5 53.8h0M400.7 47.4h0M400.9 55h0M401 54.9h0M401.2 50.6h0M401.3 52.4h0M401.5 52.8h0M401.7 55.3h0M401.8 47h0M402 45.5h0M402.1 49.2h0M402.3 47.9h0M402.5 50.7h0M402.6 49.7h0M402.8 47.2h0M402.9 45.2h0M403.1 47.3h0M403.3 55h0M403.4 56.6h0M403.6 52.4h0M403.7 54.2h0M403.9 48.7h0M404.1 50.1h0M404.2 51.3h0M404.4 46.9h0M404.5 47.2h0M404.7 50.7h0M404.9 49.3h0M405 47h0M405.2 51.6h0M405.4 52h0M405.5 44h0M405.7 50.3h0M405.8 49.4h0M406 50.8h0M406.2 44.4h0M406.3 48.2h0M406.5 49.1h0M406.6 52.8h0M406.8 52.4h0M407 54.5h0M407.1 44.9h0M407.3 49.1h0M407.4 49h0M407.6 50.9h0M407.8 48.9h0M407.9 48.7h0M408.1 52.9h0M408.2 50.9h0M408.4 46.6h0M408.6 54.6h0M408.7 53.5h0M408.9 48.5h0M409 53h0M409.2 40.2h0M409.4 54h0M409.5 49.7h0M409.7 47.8h0M409.9 41.6h0M410 47.9h0M410.2 51h0M410.3 50.9h0M410.5 50.5h0M410.7 48.6h0M410.8 38.6h0M411 50.7h0M411.1 44.3h0M411.3 51.1h0M411.5 54h0M411.6 51.2h0M411.8 49.1h0M411.9 49.8h0M412.1 49.9h0" stroke="#ff0000" stroke-width="2.0" stroke-linecap="round" fill="none"/><polyline points="39.5,193.9 58.2,193.9 58.2,186.2 74.9,186.2 74.9,178.5 95.5,178.5 95.5,170.8 113.9,170.8 113.9,163.1 133.4,163.1 133.4,155.4 148.3,155.4 148.3,147.6 168.4,147.6 168.4,139.9 185.6,139.9 185.6,132.2 203.4,132.2 203.4,124.5 221.7,124.5 221.7,116.8 239.4,116.8 239.4,109.1 256,109.1 256,101.4 275.7,101.4 275.7,93.6 294.5,93.6 294.5,85.9 313,85.9 313,78.2 332.5,78.2 332.5,70.5 351.3,70.5 351.3,62.8 369.3,62.8 369.3,55.1 391.7,55.1 391.7,47.4 412.6,47.4" fill="none" stroke="#4040ff" stroke-width="0.9"/><path d="M39.5 208.3h0M39.7 207.5h0M39.8 203.9h0M40 204.1h0M40.1 205.2h0M40.3 213.4h0M40.5 203.8h0M40.6 206h0M40.8 201.6h0M40.9 203.6h0M41.1 207.3h0M41.3 208.4h0M41.4 203.8h0M41.6 204.6h0M41.7 208.1h0M41.9 205.5h0M42.1 205.1h0M42.2 207.5h0M42.4 206.7h0M42.6 208.8h0M42.7 208.1h0M42.9 205h0M43 206h0M43.2 206.1h0M43.4 203.2h0M43.5 204.1h0M43.7 208.4h0M43.8 202.6h0M44 208.5h0M44.2 206.8h0M44.3 205.9h0M44.5 207.4h0M44.6 207.3h0M44.8 208.9h0M45 205.3h0M45.1 205.6h0M45.3 205.6h0M45.4 210.4h0M45.6 208.3h0M45.8 210.2h0M45.9 205.3h0M46.1 213.3h0M46.2 206.1h0M46.4 206.6h0M46.6 211.3h0M46.7 214.7h0M46.9 208.4h0M47.1 207h0M47.2 208h0M47.4 205.7h0M47.5 204.9h0M47.7 204.2h0M47.9 208.3h0M48 202.5h0M48.2 209h0M48.3 211.5h0M48.5 209.4h0M48.7 206.9h0M48.8 207.4h0M49 207.2h0M49.1 208.4h0M49.3 211.7h0M49.5 204h0M49.6 207.4h0M49.8 207.5h0M49.9 207.6h0M50.1 201.2h0M50.3 205.4h0M50.4 208.3h0M50.6 202.9h0M50.7 205.3h0M50.9 210.7h0M51.1 209.1h0M51.2 203.8h0M51.4 210.2h0M51.6 208.5h0M51.7 205.6h0M51.9 206.7h0M52 206.3h0M52.2 203.7h0M52.4 204.5h0M52.5 207.4h0M52.7 219.6h0M52.8 210h0M53 204.9h0M53.2 200.1h0M53.3 204.9h0M53.5 206.3h0M53.6 206.6h0M53.8 205.8h0M54 203.7h0M54.1 209.2h0M54.3 204.1h0M54.4 207.3h0M54.6 204.9h0M54.8 202.8h0M54.9 208.9h0M55.1 199.7h0M55.2 203.6h0M55.4 206.6h0M55.6 204.7h0M55.7 207.3h0M55.9 205.3h0M56 206.8h0M56.2 210.6h0M56.4 204.9h0M56.5 205.1h0M56.7 202.9h0M56.9 198.2h0M57 206.9h0M57.2 206.7h0M57.3 205.4h0M57.5 203.7h0M57.7 207h0M57.8 210.5h0M58 204.5h0M58.1 203.6h0M58.3 203.3h0M58.5 205.6h0M58.6 203.7h0M58.8 205h0M58.9 209.5h0M59.1 207h0M59.3 210.1h0M59.4 206.5h0M59.6 207.5h0M59.7 200.6h0M59.9 208h0M60.1 210.8h0M60.2 204.6h0M60.4 205.7h0M60.5 204.9h0M60.7 196.6h0M60.9 201.7h0M61 205.1h0M61.2 206.5h0M61.4 203.6h0M61.5 207.7h0M61.7 208.1h0M61.8 204h0M62 208.4h0M62.2 209.2h0M62.3 211.9h0M62.5 202.5h0M62.6 208.4h0M62.8 204.5h0M63 203.9h0M63.1 207.3h0M63.3 203.5h0M63.4 207.4h0M63.6 206.7h0M63.8 207.7h0M63.9 206.2h0M64.1 202.8h0M64.2 205.7h0M64.4 206.9h0M64.6 203.7h0M64.7 211.8h0M64.9 204.1h0M65 203.2h0M65.2 212.1h0M65.4 206.5h0M65.5 204.5h0M65.7 204h0M65.9 205.6h0M66 206.6h0M66.2 207.4h0M66.3 203.8h0M66.5 205.1h0M66.7 206.6h0M66.8 206.4h0M67 212.7h0M67.1 202.2h0M67.3 202.5h0M67.5 203.8h0M67.6 204.8h0M67.8 210h0M67.9 205.9h0M68.1 204h0M68.3 204.4h0M68.4 208.7h0M68.6 202.8h0M68.7 205h0M68.9 208.2h0M69.1 205.1h0M69.2 199.1h0M69.4 205.1h0M69.5 203.2h0M69.7 206.6h0M69.9 206.8h0M70 208.9h0M70.2 200.3h0M70.3 206.4h0M70.5 211.3h0M70.7 202.2h0M70.8 207.3h0M71 204.7h0M71.2 203.2h0M71.3 209.7h0M71.5 208h0M71.6 201.6h0M71.8 204.6h0M72 207.2h0M72.1 203.3h0M72.3 203.9h0M72.4 203.6h0M72.6 212.4h0M72.8 203.9h0M72.9 204h0M73.1 201.8h0M73.2 206.2h0M73.4 202.1h0M73.6 206.4h0M73.7 198.9h0M73.9 201.1h0M74 206.3h0M74.2 203.4h0M74.4 202h0M74.5 204.7h0M74.7 201h0M74.8 203.9h0M75 198h0M75.2 202.5h0M75.3 196.1h0M75.5 205h0M75.7 205.8h0M75.8 201.4h0M76 207.7h0M76.1 202h0M76.3 205.8h0M76.5 197.4h0M76.6 207.5h0M76.8 203.3h0M76.9 201.8h0M77.1 201.5h0M77.3 200.6h0M77.4 206.9h0M77.6 203.2h0M77.7 208h0M77.9 202.9h0M78.1 197.3h0M78.2 205.5h0M78.4 202.4h0M78.5 202.7h0M78.7 207.4h0M78.9 202.6h0M79 206.3h0M79.2 203.2h0M79.3 201.3h0M79.5 204.5h0M79.7 201.7h0M79.8 206.4h0M80 205.7h0M80.2 203.3h0M80.3 203.9h0M80.5 204.6h0M80.6 202.4h0M80.8 205.4h0M81 202.5h0M81.1 204.7h0M81.3 200.6h0M81.4 203.3h0M81.6 204.1h0M81.8 201h0M81.9 201.9h0M82.1 200.5h0M82.2 204.9h0M82.4 203.7h0M82.6 204.1h0M82.7 207h0M82.9 203.9h0M83 198.7h0M83.2 203.2h0M83.4 205.6h0M83.5 202.1h0M83.7 205.8h0M83.8 204.5h0M84 203.9h0M84.2 202.1h0M84.3 201.5h0M84.5 202.1h0M84.6 202.9h0M84.8 204.1h0M85 203.9h0M85.1 201.9h0M85.3 202.9h0M85.5 203.7h0M85.6 198.4h0M85.8 200.6h0M85.9 200.5h0M86.1 202.1h0M86.3 201.9h0M86.4 201.9h0M86.6 200.3h0M86.7 204.4h0M86.9 203.3h0M87.1 198.2h0M87.2 202.6h0M87.4 199.5h0M87.5 207.1h0M87.7 201.3h0M87.9 201.4h0M88 202.7h0M88.2 201.9h0M88.3 202.3h0M88.5 206.6h0M88.7 203h0M88.8 204.7h0M89 205.4h0M89.1 199.8h0M89.3 206.9h0M89.5 204.2h0M89.6 204.9h0M89.8 200h0M90 204.5h0M90.1 203.4h0M90.3 200.8h0M90.4 208.4h0M90.6 203.8h0M90.8 201.6h0M90.9 202.8h0M91.1 204.7h0M91.2 205.3h0M91.4 203.8h0M91.6 205.5h0M91.7 206.1h0M91.9 198.8h0M92 200.8h0M92.2 199.6h0M92.4 202.4h0M92.5 206h0M92.7 203.8h0M92.8 199.2h0M93 201.2h0M93.2 204.8h0M93.3 200.6h0M93.5 201.7h0M93.6 202.8h0M93.8 197h0M94 204.1h0M94.1 202.9h0M94.3 203.5h0M94.5 199.2h0M94.6 199.8h0M94.8 200.2h0M94.9 202.5h0M95.1 202h0M95.3 202.2h0M95.4 206.7h0M95.6 205.4h0M95.7 199.8h0M95.9 200h0M96.1 206.5h0M96.2 200.9h0M96.4 205.5h0M96.5 206.1h0M96.7 200.2h0M96.9 196.1h0M97 201.9h0M97.2 199.3h0M97.3 198.9h0M97.5 200.5h0M97.7 204h0M97.8 200.3h0M98 201h0M98.1 200.3h0M98.3 197.7h0M98.5 205.7h0M98.6 195h0M98.8 199.7h0M98.9 203h0M99.1 197.6h0M99.3 203.1h0M99.4 202.8h0M99.6 199h0M99.8 202h0M99.9 198.3h0M100.1 202.8h0M100.2 195h0M100.4 202h0M100.6 205.2h0M100.7 202.7h0M100.9 205.2h0M101 203.2h0M101.2 198h0M101.4 202.1h0M101.5 194.7h0M101.7 197.3h0M101.8 205.1h0M102 201.6h0M102.2 202.4h0M102.3 198.9h0M102.5 201.6h0M102.6 202.2h0M102.8 200.5h0M103 201.6h0M103.1 195.4h0M103.3 205.2h0M103.4 198.3h0M103.6 195.3h0M103.8 198.7h0M103.9 199h0M104.1 202.9h0M104.3 198.8h0M104.4 202.2h0M104.6 198.7h0M104.7 207.5h0M104.9 202.9h0M105.1 206.8h0M105.2 198.5h0M105.4 203.2h0M105.5 198.7h0M105.7 203h0M105.9 203.3h0M106 196.9h0M106.2 198.2h0M106.3 198.1h0M106.5 197.1h0M106.7 199.3h0M106.8 198.7h0M107 197.3h0M107.1 201.6h0M107.3 202.9h0M107.5 197.7h0M107.6 199.8h0M107.8 201.4h0M107.9 200.7h0M108.1 199.4h0M108.3 203.6h0M108.4 203.7h0M108.6 203.2h0M108.7 200.8h0M108.9 206.9h0M109.1 206.2h0M109.2 200.2h0M109.4 201h0M109.6 204.7h0M109.7 199.1h0M109.9 209.1h0M110 201.5h0M110.2 199.4h0M110.4 200.7h0M110.5 196.9h0M110.7 199.8h0M110.8 195.7h0M111 207.7h0M111.2 205.5h0M111.3 197.8h0M111.5 202.2h0M111.6 204.1h0M111.8 204.9h0M112 204.2h0M112.1 203.9h0M112.3 198.8h0M112.4 190.1h0M112.6 199.8h0M112.8 198h0M112.9 198.1h0M113.1 202.5h0M113.2 204.2h0M113.4 197.5h0M113.6 206.2h0M113.7 205.4h0M113.9 200.2h0M114.1 200h0M114.2 201.1h0M114.4 204h0M114.5 206.8h0M114.7 198.2h0M114.9 202.2h0M115 195.5h0M115.2 201.7h0M115.3 204.5h0M115.5 202.1h0M115.7 203.5h0M115.8 202.7h0M116 203.3h0M116.1 201.7h0M116.3 198.9h0M116.5 200.6h0M116.6 201.1h0M116.8 204.8h0M116.9 205.8h0M117.1 202.4h0M117.3 199.2h0M117.4 199.2h0M117.6 200.7h0M117.7 205.2h0M117.9 197.3h0M118.1 201.1h0M118.2 199.1h0M118.4 182.5h0M118.6 202.1h0M118.7 201.1h0M118.9 201.6h0M119 206h0M119.2 200.8h0M119.4 206h0M119.5 204.7h0M119.7 201.4h0M119.8 203.7h0M120 200.9h0M120.2 198.9h0M120.3 200.5h0M120.5 198.7h0M120.6 202.7h0M120.8 201.3h0M121 202.8h0M121.1 201.2h0M121.3 192.5h0M121.4 202.1h0M121.6 196.2h0M121.8 201.7h0M121.9 198.8h0M122.1 201.5h0M122.2 205.1h0M122.4 196.5h0M122.6 201.8h0M122.7 201h0M122.9 195.9h0M123 203.1h0M123.2 201.3h0M123.4 199.8h0M123.5 199.2h0M123.7 210.2h0M123.9 206.5h0M124 196.2h0M124.2 198.6h0M124.3 200.2h0M124.5 200.2h0M124.7 201h0M124.8 203.4h0M125 202.8h0M125.1 199.9h0M125.3 197.4h0M125.5 199h0M125.6 200.2h0M125.8 210.8h0M125.9 202.6h0M126.1 200.3h0M126.3 201.3h0M126.4 201.8h0M126.6 206.9h0M126.7 199.5h0M126.9 202.5h0M127.1 203.3h0M127.2 198.6h0M127.4 200.8h0M127.5 201.7h0M127.7 199.9h0M127.9 202.8h0M128 204.1h0M128.2 204.4h0M128.4 200.7h0M128.5 201.8h0M128.7 207.8h0M128.8 198.1h0M129 204.7h0M129.2 203.7h0M129.3 201.6h0M129.5 203.1h0M129.6 201.7h0M129.8 196h0M130 204.8h0M130.1 200.6h0M130.3 201.8h0M130.4 201.1h0M130.6 200.1h0M130.8 201.2h0M130.9 198h0M131.1 203.3h0M131.2 206h0M131.4 206h0M131.6 204.8h0M131.7 198.5h0M131.9 202.3h0M132 199.2h0M132.2 201.1h0M132.4 206.4h0M132.5 198.2h0M132.7 203.6h0M132.9 202h0M133 200.8h0M133.2 198.8h0M133.3 202.4h0M133.5 199.9h0M133.7 204.1h0M133.8 204.6h0M134 197.3h0M134.1 199.8h0M134.3 200.3h0M134.5 197.9h0M134.6 198.1h0M134.8 201.4h0M134.9 200.6h0M135.1 196.6h0M135.3 199.7h0M135.4 202.7h0M135.6 209.7h0M135.7 198.6h0M135.9 205.6h0M136.1 204.9h0M136.2 196.7h0M136.4 197.4h0M136.5 202.2h0M136.7 197.9h0M136.9 200.5h0M137 199.9h0M137.2 202.8h0M137.3 194.1h0M137.5 204.2h0M137.7 197.8h0M137.8 204h0M138 200.8h0M138.2 196.4h0M138.3 202.6h0M138.5 203.2h0M138.6 200.5h0M138.8 200.3h0M139 202.3h0M139.1 204.6h0M139.3 201.6h0M139.4 202.7h0M139.6 201h0M139.8 190.7h0M139.9 198.6h0M140.1 201.9h0M140.2 200.3h0M140.4 200.5h0M140.6 203.8h0M140.7 202.5h0M140.9 203.6h0M141 196.8h0M141.2 202.7h0M141.4 199.5h0M141.5 198.9h0M141.7 198.8h0M141.8 199.4h0M142 203.5h0M142.2 199.2h0M142.3 198h0M142.5 201.2h0M142.7 199.9h0M142.8 205.8h0M143 197.1h0M143.1 194.5h0M143.3 200.5h0M143.5 201.2h0M143.6 201.5h0M143.8 203.3h0M143.9 207h0M144.1 200.2h0M144.3 199.6h0M144.4 196.2h0M144.6 201.8h0M144.7 203.6h0M144.9 200.4h0M145.1 204.5h0M145.2 201.2h0M145.4 205.4h0M145.5 202.1h0M145.7 198.2h0M145.9 199.4h0M146 196.9h0M146.2 196.3h0M146.3 201.9h0M146.5 203.6h0M146.7 206.6h0M146.8 201h0M147 200.5h0M147.2 198h0M147.3 203.9h0M147.5 202.2h0M147.6 199.5h0M147.8 203.1h0M148 202.7h0M148.1 205.6h0M148.3 203.2h0M148.4 201.5h0M148.6 200.1h0M148.8 197.4h0M148.9 206h0M149.1 205.4h0M149.2 203.4h0M149.4 197.9h0M149.6 199.3h0M149.7 203.7h0M149.9 197.8h0M150 199.1h0M150.2 196.1h0M150.4 206.3h0M150.5 204.1h0M150.7 202.4h0M150.8 201.8h0M151 196h0M151.2 200h0M151.3 202.9h0M151.5 211.6h0M151.6 204.6h0M151.8 199.8h0M152 198.7h0M152.1 204.8h0M152.3 200.7h0M152.5 202.7h0M152.6 200h0M152.8 194.8h0M152.9 202.7h0M153.1 197.4h0M153.3 204.2h0M153.4 196.8h0M153.6 195.9h0M153.7 202h0M153.9 202.3h0M154.1 201.4h0M154.2 197.7h0M154.4 203.6h0M154.5 197h0M154.7 199.8h0M154.9 198.9h0M155 200.1h0M155.2 203.5h0M155.3 199.3h0M155.5 202.7h0M155.7 203.1h0M155.8 196.3h0M156 197.9h0M156.1 195h0M156.3 199.5h0M156.5 202h0M156.6 195.7h0M156.8 203.1h0M157 203.2h0M157.1 200.6h0M157.3 197.2h0M157.4 201.1h0M157.6 199.6h0M157.8 202.7h0M157.9 200.9h0M158.1 203.1h0M158.2 199.9h0M158.4 205.1h0M158.6 194.7h0M158.7 198.3h0M158.9 202.5h0M159 196.9h0M159.2 203.2h0M159.4 197.7h0M159.5 201.4h0M159.7 198.5h0M159.8 199.9h0M160 201.6h0M160.2 200.8h0M160.3 200h0M160.5 207.1h0M160.6 201.1h0M160.8 198.4h0M161 203.7h0M161.1 203.4h0M161.3 204.5h0M161.5 206.1h0M161.6 198.5h0M161.8 204.1h0M161.9 204.3h0M162.1 201.1h0M162.3 201.8h0M162.4 192.7h0M162.6 199.5h0M162.7 206.1h0M162.9 196.1h0M163.1 202.1h0M163.2 201.9h0M163.4 202.7h0M163.5 205.7h0M163.7 196.2h0M163.9 201.2h0M164 203.5h0M164.2 197.4h0M164.3 201h0M164.5 206.4h0M164.7 204.8h0M164.8 202.6h0M165 193.8h0M165.1 200.7h0M165.3 202.2h0M165.5 200.2h0M165.6 200.9h0M165.8 209.7h0M165.9 200.5h0M166.1 198.4h0M166.3 201.8h0M166.4 215.6h0M166.6 200.2h0M166.8 200.8h0M166.9 203.2h0M167.1 201.7h0M167.2 197.7h0M167.4 200.7h0M167.6 202.4h0M167.7 199.8h0M167.9 204.3h0M168 203.2h0M168.2 198.3h0M168.4 202h0M168.5 206.6h0M168.7 205.4h0M168.8 200.9h0M169 203.6h0M169.2 199.2h0M169.3 197h0M169.5 202.6h0M169.6 201.8h0M169.8 202.5h0M170 201h0M170.1 202h0M170.3 199.6h0M170.4 202.4h0M170.6 203.4h0M170.8 200.9h0M170.9 203.3h0M171.1 196.1h0M171.3 198.9h0M171.4 205.1h0M171.6 206h0M171.7 201.8h0M171.9 200.8h0M172.1 197.5h0M172.2 202.1h0M172.4 203.2h0M172.5 196.9h0M172.7 202.6h0M172.9 202.4h0M173 202.3h0M173.2 197.9h0M173.3 202.6h0M173.5 196.9h0M173.7 205.2h0M173.8 201.4h0M174 197.8h0M174.1 204.8h0M174.3 204.3h0M174.5 199.2h0M174.6 207.2h0M174.8 198.2h0M174.9 201.9h0M175.1 204.4h0M175.3 194.7h0M175.4 203.8h0M175.6 200.9h0M175.8 201h0M175.9 198h0M176.1 202h0M176.2 197.9h0M176.4 198.3h0M176.6 199.8h0M176.7 202.5h0M176.9 205.4h0M177 197.3h0M177.2 198.9h0M177.4 200.2h0M177.5 201h0M177.7 203.3h0M177.8 196.6h0M178 200.2h0M178.2 200h0M178.3 201.1h0M178.5 203.3h0M178.6 203h0M178.8 204.6h0M179 195.3h0M179.1 207h0M179.3 203.7h0M179.4 201.8h0M179.6 202h0M179.8 199.6h0M179.9 198.2h0M180.1 200.1h0M180.2 200.4h0M180.4 199.3h0M180.6 196.9h0M180.7 200.2h0M180.9 202.6h0M181.1 206.7h0M181.2 201.1h0M181.4 195.2h0M181.5 200.4h0M181.7 206h0M181.9 197.6h0M182 196.2h0M182.2 202.2h0M182.3 198.8h0M182.5 202.4h0M182.7 199.8h0M182.8 202.8h0M183 200.1h0M183.1 196.8h0M183.3 190.6h0M183.5 200.1h0M183.6 202.9h0M183.8 199.8h0M183.9 199.9h0M184.1 203.4h0M184.3 204.3h0M184.4 203.2h0M184.6 203.9h0M184.7 202.3h0M184.9 203.2h0M185.1 203.5h0M185.2 202.2h0M185.4 201.2h0M185.6 201.4h0M185.7 207.8h0M185.9 201.1h0M186 200.4h0M186.2 200h0M186.4 200.9h0M186.5 201.7h0M186.7 197.9h0M186.8 195.5h0M187 201.9h0M187.2 196.5h0M187.3 201.8h0M187.5 201.4h0M187.6 204.3h0M187.8 205.7h0M188 202.1h0M188.1 199.5h0M188.3 197.7h0M188.4 198.8h0M188.6 201.1h0M188.8 195.2h0M188.9 201.2h0M189.1 201h0M189.2 202.8h0M189.4 200.1h0M189.6 201.3h0M189.7 199h0M189.9 199.7h0M190.1 202.5h0M190.2 201.4h0M190.4 205.4h0M190.5 201.5h0M190.7 202.1h0M190.9 189.8h0M191 205h0M191.2 198.9h0M191.3 203.3h0M191.5 201.3h0M191.7 198.3h0M191.8 203.9h0M192 201.1h0M192.1 201.5h0M192.3 211.6h0M192.5 201h0M192.6 200h0M192.8 202.3h0M192.9 199.9h0M193.1 201.2h0M193.3 199.2h0M193.4 196.9h0M193.6 199.1h0M193.7 199.6h0M193.9 201.7h0M194.1 204.3h0M194.2 196.3h0M194.4 201.4h0M194.5 194.8h0M194.7 198.1h0M194.9 199.6h0M195 194.7h0M195.2 195.8h0M195.4 201.5h0M195.5 198.8h0M195.7 200.7h0M195.8 198.8h0M196 207.1h0M196.2 200.6h0M196.3 198.6h0M196.5 205.7h0M196.6 202.7h0M196.8 200h0M197 204.4h0M197.1 201.5h0M197.3 202.8h0M197.4 201.7h0M197.6 198.1h0M197.8 204.9h0M197.9 201.5h0M198.1 198.2h0M198.2 198.9h0M198.4 203.7h0M198.6 200h0M198.7 201.2h0M198.9 202.9h0M199 201.4h0M199.2 196.8h0M199.4 202.8h0M199.5 203.7h0M199.7 203.5h0M199.9 205.6h0M200 202h0M200.2 203.2h0M200.3 205.5h0M200.5 200.2h0M200.7 205.9h0M200.8 203.9h0M201 203.2h0M201.1 206.2h0M201.3 203.4h0M201.5 198.6h0M201.6 204.2h0M201.8 201.9h0M201.9 202.2h0M202.1 201.5h0M202.3 204.8h0M202.4 202.6h0M202.6 199.1h0M202.7 202.4h0M202.9 203.1h0M203.1 199h0M203.2 199.8h0M203.4 200h0M203.5 199.3h0M203.7 202h0M203.9 203.9h0M204 206.3h0M204.2 204.4h0M204.4 203.9h0M204.5 204.2h0M204.7 204.8h0M204.8 200h0M205 203h0M205.2 201.9h0M205.3 200.7h0M205.5 199.8h0M205.6 199.6h0M205.8 200.3h0M206 197.6h0M206.1 202.5h0M206.3 201h0M206.4 201.3h0M206.6 202h0M206.8 203.1h0M206.9 194.9h0M207.1 200.7h0M207.2 196.5h0M207.4 194.8h0M207.6 195.6h0M207.7 205.3h0M207.9 195.9h0M208 202.3h0M208.2 210.1h0M208.4 199.7h0M208.5 205.6h0M208.7 206.2h0M208.8 203.7h0M209 207.7h0M209.2 202.8h0M209.3 199h0M209.5 200h0M209.7 199.8h0M209.8 197.4h0M210 197.5h0M210.1 191.8h0M210.3 199.5h0M210.5 201h0M210.6 199.2h0M210.8 201.4h0M210.9 200.4h0M211.1 199.9h0M211.3 197.7h0M211.4 197.1h0M211.6 199h0M211.7 201.9h0M211.9 206.9h0M212.1 204h0M212.2 206.2h0M212.4 202.4h0M212.5 200.8h0M212.7 208.9h0M212.9 201.1h0M213 195.1h0M213.2 200.2h0M213.3 205.6h0M213.5 202h0M213.7 204.2h0M213.8 200h0M214 197.2h0M214.2 199.7h0M214.3 200h0M214.5 204.5h0M214.6 206.6h0M214.8 199h0M215 200.1h0M215.1 200.7h0M215.3 200.1h0M215.4 197.6h0M215.6 201.4h0M215.8 202.1h0M215.9 209.6h0M216.1 197.7h0M216.2 200.8h0M216.4 196.2h0M216.6 203.7h0M216.7 198.2h0M216.9 200.3h0M217 199.8h0M217.2 199.5h0M217.4 198.1h0M217.5 196.2h0M217.7 206h0M217.8 201.8h0M218 201.9h0M218.2 207h0M218.3 200.8h0M218.5 202.7h0M218.7 201.2h0M218.8 204.4h0M219 202.5h0M219.1 202h0M219.3 200.4h0M219.5 201.9h0M219.6 204.4h0M219.8 195.3h0M219.9 200.8h0M220.1 208.1h0M220.3 200.3h0M220.4 195.6h0M220.6 203.2h0M220.7 198.7h0M220.9 200.5h0M221.1 199.7h0M221.2 196.4h0M221.4 199.9h0M221.5 196h0M221.7 198.5h0M221.9 200.2h0M222 201.1h0M222.2 201.3h0M222.3 200.7h0M222.5 207.1h0M222.7 202.3h0M222.8 197.7h0M223 204.3h0M223.1 199.3h0M223.3 200.6h0M223.5 199.4h0M223.6 198.7h0M223.8 205.7h0M224 201.2h0M224.1 196.4h0M224.3 200.4h0M224.4 200.5h0M224.6 205h0M224.8 202.5h0M224.9 204.3h0M225.1 192.4h0M225.2 202h0M225.4 204.1h0M225.6 206.6h0M225.7 201.2h0M225.9 196.3h0M226 202.8h0M226.2 199.4h0M226.4 206.4h0M226.5 199.4h0M226.7 204.1h0M226.8 204.5h0M227 203.1h0M227.2 198.2h0M227.3 211.4h0M227.5 197.9h0M227.6 200.9h0M227.8 197.1h0M228 204.8h0M228.1 202.4h0M228.3 203.6h0M228.5 201.4h0M228.6 205.7h0M228.8 201.6h0M228.9 195.8h0M229.1 203.9h0M229.3 203.7h0M229.4 200h0M229.6 201.1h0M229.7 202h0M229.9 205.5h0M230.1 202.3h0M230.2 201.3h0M230.4 210h0M230.5 196.9h0M230.7 199.5h0M230.9 201.3h0M231 200.4h0M231.2 201.4h0M231.3 203.2h0M231.5 202.4h0M231.7 201.9h0M231.8 203h0M232 201.7h0M232.1 201.1h0M232.3 202.5h0M232.5 196.3h0M232.6 204.7h0M232.8 197.5h0M232.9 197.1h0M233.1 201.2h0M233.3 204.3h0M233.4 201.3h0M233.6 198.5h0M233.8 204.2h0M233.9 201.7h0M234.1 201.5h0M234.2 201.4h0M234.4 204h0M234.6 203.5h0M234.7 201.8h0M234.9 196.8h0M235 200h0M235.2 206.8h0M235.4 206.2h0M235.5 202.2h0M235.7 200.9h0M235.8 204.5h0M236 200.9h0M236.2 201.1h0M236.3 201.6h0M236.5 197h0M236.6 203.9h0M236.8 202.4h0M237 200.4h0M237.1 198h0M237.3 201.8h0M237.4 205.1h0M237.6 199.4h0M237.8 198.2h0M237.9 202.4h0M238.1 196.7h0M238.3 195h0M238.4 199.9h0M238.6 199.3h0M238.7 200.4h0M238.9 199.6h0M239.1 202.1h0M239.2 200.6h0M239.4 199.5h0M239.5 199.9h0M239.7 203h0M239.9 206.4h0M240 203.7h0M240.2 203.1h0M240.3 193.2h0M240.5 198.4h0M240.7 200.3h0M240.8 201.8h0M241 196.7h0M241.1 192.5h0M241.3 202h0M241.5 199.5h0M241.6 201.6h0M241.8 200.2h0M241.9 199.1h0M242.1 202.6h0M242.3 199.9h0M242.4 197.2h0M242.6 199.4h0M242.8 200.9h0M242.9 198.2h0M243.1 204.7h0M243.2 198.1h0M243.4 206.1h0M243.6 203.7h0M243.7 198.6h0M243.9 201.6h0M244 204.5h0M244.2 200.7h0M244.4 197.9h0M244.5 201.5h0M244.7 206.8h0M244.8 197h0M245 197.4h0M245.2 201.2h0M245.3 200.9h0M245.5 200.1h0M245.6 200.3h0M245.8 204.1h0M246 202.9h0M246.1 198.4h0M246.3 201.7h0M246.4 197.6h0M246.6 203.1h0M246.8 201.7h0M246.9 204.6h0M247.1 202.2h0M247.2 204.2h0M247.4 203.8h0M247.6 203.9h0M247.7 202.2h0M247.9 207.2h0M248.1 199.3h0M248.2 204.6h0M248.4 202.5h0M248.5 201.7h0M248.7 199.6h0M248.9 202.5h0M249 197.1h0M249.2 197.4h0M249.3 203.2h0M249.5 196.9h0M249.7 205.3h0M249.8 200.5h0M250 201.9h0M250.1 201.4h0M250.3 202.4h0M250.5 200.5h0M250.6 200.2h0M250.8 200.9h0M250.9 204.2h0M251.1 204.4h0M251.3 204.8h0M251.4 202.3h0M251.6 200.7h0M251.7 196.6h0M251.9 203.1h0M252.1 203.6h0M252.2 200.1h0M252.4 203.5h0M252.6 204.9h0M252.7 201.5h0M252.9 204.2h0M253 202.1h0M253.2 196.4h0M253.4 200h0M253.5 200.1h0M253.7 202.8h0M253.8 198.9h0M254 200.1h0M254.2 198.6h0M254.3 201.2h0M254.5 201.5h0M254.6 204h0M254.8 200.1h0M255 201.8h0M255.1 202h0M255.3 201.6h0M255.4 201.6h0M255.6 205.6h0M255.8 194.4h0M255.9 200.8h0M256.1 202.2h0M256.2 204.5h0M256.4 198.3h0M256.6 202.3h0M256.7 201h0M256.9 200.1h0M257.1 196h0M257.2 200.3h0M257.4 198h0M257.5 203.2h0M257.7 199h0M257.9 206.3h0M258 201.7h0M258.2 199.1h0M258.3 199.9h0M258.5 198.3h0M258.7 202.4h0M258.8 205.5h0M259 200.7h0M259.1 200.8h0M259.3 198.7h0M259.5 202.2h0M259.6 201.9h0M259.8 197.4h0M259.9 204.8h0M260.1 204.7h0M260.3 196.1h0M260.4 197.4h0M260.6 198.6h0M260.7 204.1h0M260.9 200.2h0M261.1 200.9h0M261.2 203.4h0M261.4 201.7h0M261.5 202h0M261.7 200.5h0M261.9 204.5h0M262 199.2h0M262.2 206.1h0M262.4 200.4h0M262.5 199.2h0M262.7 203.2h0M262.8 202.7h0M263 195.9h0M263.2 202h0M263.3 197.6h0M263.5 199.1h0M263.6 203.6h0M263.8 199h0M264 202.4h0M264.1 204.7h0M264.3 206.8h0M264.4 201.1h0M264.6 198.1h0M264.8 198.3h0M264.9 198.9h0M265.1 201.8h0M265.2 201.4h0M265.4 204.1h0M265.6 201.9h0M265.7 201.8h0M265.9 204.2h0M266 201.1h0M266.2 202.2h0M266.4 203.6h0M266.5 203.6h0M266.7 199.9h0M266.9 196.5h0M267 199.2h0M267.2 202.2h0M267.3 194.5h0M267.5 200.1h0M267.7 202.7h0M267.8 199.8h0M268 201.2h0M268.1 206.3h0M268.3 205.3h0M268.5 200.7h0M268.6 205.1h0M268.8 205.1h0M268.9 198.3h0M269.1 208.9h0M269.3 198.8h0M269.4 200.7h0M269.6 198.4h0M269.7 201.6h0M269.9 197.8h0M270.1 201.4h0M270.2 204.5h0M270.4 202h0M270.5 200.7h0M270.7 205.8h0M270.9 198.9h0M271 204.1h0M271.2 200.6h0M271.4 202h0M271.5 201.5h0M271.7 201.8h0M271.8 201.3h0M272 199.3h0M272.2 203h0M272.3 202.7h0M272.5 201.1h0M272.6 198.2h0M272.8 199.5h0M273 199.5h0M273.1 201.3h0M273.3 201.9h0M273.4 201.7h0M273.6 199.6h0M273.8 201.5h0M273.9 197.6h0M274.1 199.2h0M274.2 201.3h0M274.4 196.8h0M274.6 198.8h0M274.7 198.1h0M274.9 203.2h0M275 206h0M275.2 202.2h0M275.4 200.1h0M275.5 198h0M275.7 197h0M275.8 202.7h0M276 202.5h0M276.2 203.6h0M276.3 206.6h0M276.5 202.2h0M276.7 198.9h0M276.8 201.1h0M277 201.7h0M277.1 200.4h0M277.3 198.9h0M277.5 207h0M277.6 196.2h0M277.8 210.6h0M277.9 202.7h0M278.1 201.8h0M278.3 198.7h0M278.4 200.9h0M278.6 200.1h0M278.7 198.4h0M278.9 201.3h0M279.1 200.3h0M279.2 199.9h0M279.4 203.3h0M279.5 198.4h0M279.7 202.6h0M279.9 199.7h0M280 202.6h0M280.2 201.6h0M280.3 202.1h0M280.5 198.7h0M280.7 199.2h0M280.8 199h0M281 201.9h0M281.2 203.5h0M281.3 204.4h0M281.5 200h0M281.6 201.6h0M281.8 196.9h0M282 195.2h0M282.1 199h0M282.3 199.5h0M282.4 197.1h0M282.6 196.4h0M282.8 202.9h0M282.9 199.2h0M283.1 196.7h0M283.2 207.9h0M283.4 201.6h0M283.6 200.5h0M283.7 203.3h0M283.9 199.3h0M284 205.8h0M284.2 203.2h0M284.4 197.7h0M284.5 201h0M284.7 199.3h0M284.8 205.3h0M285 196.9h0M285.2 199.4h0M285.3 202.1h0M285.5 203h0M285.7 204.2h0M285.8 202.4h0M286 207.5h0M286.1 200.1h0M286.3 201.9h0M286.5 203.8h0M286.6 200.5h0M286.8 200.6h0M286.9 200.1h0M287.1 199.6h0M287.3 198.2h0M287.4 199.8h0M287.6 197.1h0M287.7 202.4h0M287.9 197.6h0M288.1 207.1h0M288.2 206.1h0M288.4 204.5h0M288.5 200.8h0M288.7 199.7h0M288.9 204.8h0M289 201.9h0M289.2 202.9h0M289.3 199.4h0M289.5 204.4h0M289.7 199.2h0M289.8 201.7h0M290 196.6h0M290.1 199.6h0M290.3 202.8h0M290.5 200.1h0M290.6 200.1h0M290.8 203.6h0M291 201.2h0M291.1 199.9h0M291.3 194.7h0M291.4 203h0M291.6 202.8h0M291.8 197.1h0M291.9 197.8h0M292.1 203.9h0M292.2 198.4h0M292.4 199.6h0M292.6 203.1h0M292.7 200.5h0M292.9 202.7h0M293 199h0M293.2 202.2h0M293.4 204.4h0M293.5 202.3h0M293.7 195.3h0M293.8 203.2h0M294 201.6h0M294.2 202h0M294.3 205.3h0M294.5 196.6h0M294.6 206.7h0M294.8 199.7h0M295 205.8h0M295.1 201.3h0M295.3 197.7h0M295.5 201.7h0M295.6 202.4h0M295.8 203h0M295.9 204.4h0M296.1 198.9h0M296.3 202.8h0M296.4 203.5h0M296.6 200.7h0M296.7 198.8h0M296.9 198.8h0M297.1 203.5h0M297.2 203.7h0M297.4 199.1h0M297.5 197.7h0M297.7 204.9h0M297.9 197.1h0M298 201.9h0M298.2 199.2h0M298.3 196.6h0M298.5 201.8h0M298.7 200.9h0M298.8 205.5h0M299 198.5h0M299.1 201h0M299.3 204.3h0M299.5 204.4h0M299.6 200h0M299.8 199.1h0M300 206h0M300.1 200.5h0M300.3 201.4h0M300.4 200.7h0M300.6 201.1h0M300.8 199.8h0M300.9 203.6h0M301.1 205h0M301.2 200.5h0M301.4 197.7h0M301.6 201.7h0M301.7 197.4h0M301.9 199.7h0M302 195.6h0M302.2 208h0M302.4 202.6h0M302.5 198.6h0M302.7 203.7h0M302.8 195.3h0M303 199.6h0M303.2 205.8h0M303.3 203.6h0M303.5 197.7h0M303.6 196.9h0M303.8 203.9h0M304 201.4h0M304.1 199.9h0M304.3 202.7h0M304.4 200h0M304.6 196.2h0M304.8 203.8h0M304.9 199.8h0M305.1 198.8h0M305.3 197.9h0M305.4 202.3h0M305.6 199.4h0M305.7 203.3h0M305.9 200.9h0M306.1 204.6h0M306.2 200.5h0M306.4 202.3h0M306.5 196.1h0M306.7 198.6h0M306.9 203.6h0M307 210.1h0M307.2 198.1h0M307.3 198.7h0M307.5 202.6h0M307.7 203h0M307.8 202.9h0M308 205.1h0M308.1 197.2h0M308.3 200.8h0M308.5 204.2h0M308.6 206.2h0M308.8 201.2h0M308.9 201h0M309.1 202.9h0M309.3 204.8h0M309.4 203h0M309.6 199.6h0M309.8 202.7h0M309.9 204.4h0M310.1 208.9h0M310.2 198h0M310.4 203.1h0M310.6 202.7h0M310.7 204.4h0M310.9 202h0M311 200.5h0M311.2 200.5h0M311.4 198.9h0M311.5 199.1h0M311.7 200.2h0M311.8 200.4h0M312 204.8h0M312.2 198.3h0M312.3 201.6h0M312.5 200.1h0M312.6 205.9h0M312.8 202.5h0M313 200.7h0M313.1 191.3h0M313.3 202h0M313.4 200.5h0M313.6 206.1h0M313.8 203.8h0M313.9 206.6h0M314.1 205h0M314.3 204h0M314.4 202.2h0M314.6 198.8h0M314.7 203.8h0M314.9 202h0M315.1 203.7h0M315.2 201.8h0M315.4 199.9h0M315.5 199h0M315.7 203.8h0M315.9 205.4h0M316 201h0M316.2 203.1h0M316.3 205.7h0M316.5 199.5h0M316.7 200.9h0M316.8 198.8h0M317 205.2h0M317.1 202.6h0M317.3 200.6h0M317.5 197.3h0M317.6 201.4h0M317.8 204.7h0M317.9 201.1h0M318.1 200.7h0M318.3 201.5h0M318.4 198.5h0M318.6 202.1h0M318.7 203.6h0M318.9 199.8h0M319.1 199.6h0M319.2 202.6h0M319.4 201.7h0M319.6 201.3h0M319.7 202.5h0M319.9 202.6h0M320 199.4h0M320.2 200.1h0M320.4 203.2h0M320.5 205.1h0M320.7 205.7h0M320.8 199.6h0M321 205h0M321.2 204.1h0M321.3 201.9h0M321.5 203.3h0M321.6 204.3h0M321.8 207h0M322 199.1h0M322.1 203.7h0M322.3 201.6h0M322.4 201.4h0M322.6 205.2h0M322.8 204.3h0M322.9 199.2h0M323.1 201.2h0M323.2 202.7h0M323.4 198.1h0M323.6 192.3h0M323.7 195.4h0M323.9 208.1h0M324.1 203h0M324.2 207.1h0M324.4 202.2h0M324.5 201.1h0M324.7 206.9h0M324.9 200.7h0M325 200.6h0M325.2 198.2h0M325.3 205.1h0M325.5 202.8h0M325.7 203.4h0M325.8 202.5h0M326 205.6h0M326.1 199.9h0M326.3 199.9h0M326.5 203.3h0M326.6 202.5h0M326.8 199h0M326.9 200h0M327.1 200.8h0M327.3 199.3h0M327.4 205.9h0M327.6 198.7h0M327.7 204.3h0M327.9 206.1h0M328.1 201.8h0M328.2 204.2h0M328.4 196.3h0M328.6 201.1h0M328.7 197.6h0M328.9 202.6h0M329 202.2h0M329.2 200h0M329.4 204.8h0M329.5 203.2h0M329.7 200.7h0M329.8 200.8h0M330 198.1h0M330.2 201.7h0M330.3 208.1h0M330.5 200.3h0M330.6 203.4h0M330.8 200.8h0M331 204.5h0M331.1 203.5h0M331.3 201.7h0M331.4 197.4h0M331.6 199.3h0M331.8 205.7h0M331.9 201.7h0M332.1 204.1h0M332.2 201.1h0M332.4 197.3h0M332.6 203.6h0M332.7 203.4h0M332.9 200.9h0M333 201.5h0M333.2 203.3h0M333.4 200.9h0M333.5 203.5h0M333.7 202h0M333.9 196.1h0M334 202.2h0M334.2 201h0M334.3 200.3h0M334.5 203.8h0M334.7 201.3h0M334.8 204.2h0M335 205.7h0M335.1 203.1h0M335.3 198.5h0M335.5 200.7h0M335.6 205.3h0M335.8 202.1h0M335.9 200.6h0M336.1 202.6h0M336.3 204.2h0M336.4 203.6h0M336.6 204.7h0M336.7 200.6h0M336.9 202.1h0M337.1 202.2h0M337.2 202.9h0M337.4 197.2h0M337.5 202.3h0M337.7 199.3h0M337.9 202.9h0M338 207.3h0M338.2 207.7h0M338.4 205.3h0M338.5 201.7h0M338.7 205.8h0M338.8 202.6h0M339 204.8h0M339.2 200.7h0M339.3 201.5h0M339.5 204.5h0M339.6 208.1h0M339.8 203.1h0M340 209.5h0M340.1 210.9h0M340.3 199.7h0M340.4 203.2h0M340.6 200.7h0M340.8 202.9h0M340.9 201.9h0M341.1 203.2h0M341.2 206h0M341.4 206h0M341.6 204.1h0M341.7 203.4h0M341.9 203.8h0M342 203.8h0M342.2 205.1h0M342.4 203.5h0M342.5 204.9h0M342.7 199.9h0M342.9 205.7h0M343 208.4h0M343.2 204.1h0M343.3 199.7h0M343.5 194.4h0M343.7 202.7h0M343.8 195.4h0M344 203.1h0M344.1 205.4h0M344.3 204.8h0M344.5 207.1h0M344.6 205.4h0M344.8 204.1h0M344.9 198.3h0M345.1 200.7h0M345.3 204.2h0M345.4 205.6h0M345.6 200.8h0M345.7 202h0M345.9 205h0M346.1 206.6h0M346.2 198.2h0M346.4 203h0M346.5 204.3h0M346.7 202.2h0M346.9 197.2h0M347 203.6h0M347.2 199.8h0M347.3 201.9h0M347.5 203.2h0M347.7 204.2h0M347.8 205.2h0M348 201.9h0M348.2 205.7h0M348.3 206.8h0M348.5 204.4h0M348.6 207h0M348.8 201.6h0M349 205.8h0M349.1 204h0M349.3 200.5h0M349.4 203h0M349.6 201.7h0M349.8 201.7h0M349.9 203.4h0M350.1 206.1h0M350.2 202.2h0M350.4 203.4h0M350.6 199h0M350.7 203.4h0M350.9 206.2h0M351 205.3h0M351.2 204.3h0M351.4 201.5h0M351.5 200.3h0M351.7 202.7h0M351.8 199.2h0M352 199.5h0M352.2 205.5h0M352.3 200.3h0M352.5 207.8h0M352.7 198.9h0M352.8 204h0M353 199.5h0M353.1 203.3h0M353.3 199.9h0M353.5 202.8h0M353.6 202.3h0M353.8 201.4h0M353.9 204.1h0M354.1 206.8h0M354.3 213h0M354.4 205.1h0M354.6 202.8h0M354.7 202.5h0M354.9 208.6h0M355.1 196.5h0M355.2 200.6h0M355.4 197.5h0M355.5 197h0M355.7 201.8h0M355.9 213h0M356 203.4h0M356.2 207.4h0M356.3 206h0M356.5 201.1h0M356.7 208.1h0M356.8 206.9h0M357 202.8h0M357.1 202.9h0M357.3 203.6h0M357.5 198.1h0M357.6 200h0M357.8 203.1h0M358 203.7h0M358.1 199.6h0M358.3 201.2h0M358.4 201.8h0M358.6 201.7h0M358.8 204h0M358.9 202.3h0M359.1 202.5h0M359.2 198.1h0M359.4 199.1h0M359.6 202.9h0M359.7 197.5h0M359.9 202.7h0M360 200.1h0M360.2 199.6h0M360.4 203.7h0M360.5 200h0M360.7 199.5h0M360.8 200h0M361 202h0M361.2 209.5h0M361.3 196h0M361.5 201.8h0M361.6 201.2h0M361.8 204.5h0M362 200.8h0M362.1 194.9h0M362.3 205.5h0M362.5 198.8h0M362.6 201.6h0M362.8 198h0M362.9 198.7h0M363.1 200.4h0M363.3 204.1h0M363.4 204.1h0M363.6 200.1h0M363.7 203.1h0M363.9 200.7h0M364.1 202h0M364.2 202.1h0M364.4 203.4h0M364.5 200h0M364.7 201.3h0M364.9 202.3h0M365 201.9h0M365.2 199.4h0M365.3 198.3h0M365.5 200.4h0M365.7 203.8h0M365.8 202.2h0M366 205h0M366.1 195.5h0M366.3 207.3h0M366.5 201h0M366.6 198.2h0M366.8 207.6h0M367 207.9h0M367.1 203h0M367.3 198.1h0M367.4 196.6h0M367.6 205.3h0M367.8 197.6h0M367.9 201h0M368.1 200.7h0M368.2 207.6h0M368.4 200.7h0M368.6 205.2h0M368.7 199.6h0M368.9 199.3h0M369 204.3h0M369.2 203.2h0M369.4 196.7h0M369.5 203.3h0M369.7 203.3h0M369.8 199.8h0M370 202.1h0M370.2 202.2h0M370.3 200.1h0M370.5 199.8h0M370.6 199.6h0M370.8 200.7h0M371 197.7h0M371.1 205.8h0M371.3 197.2h0M371.4 201.6h0M371.6 201.1h0M371.8 198.5h0M371.9 203.7h0M372.1 206.7h0M372.3 205h0M372.4 199.3h0M372.6 204.9h0M372.7 201.9h0M372.9 201.2h0M373.1 199.7h0M373.2 201.3h0M373.4 205.2h0M373.5 202.8h0M373.7 200.1h0M373.9 199.4h0M374 200.1h0M374.2 202.9h0M374.3 206.5h0M374.5 198.3h0M374.7 201.2h0M374.8 200.2h0M375 199.1h0M375.1 202.3h0M375.3 202.8h0M375.5 197.3h0M375.6 198.3h0M375.8 204.5h0M375.9 202.1h0M376.1 202.6h0M376.3 199.8h0M376.4 200.1h0M376.6 202.4h0M376.8 199.8h0M376.9 198.1h0M377.1 201.2h0M377.2 203.7h0M377.4 198.3h0M377.6 204.1h0M377.7 203.1h0M377.9 198.7h0M378 201.1h0M378.2 201h0M378.4 202.9h0M378.5 202.9h0M378.7 197.5h0M378.8 197.3h0M379 203.9h0M379.2 201.4h0M379.3 202.2h0M379.5 202h0M379.6 205.3h0M379.8 197.7h0M380 204.1h0M380.1 198.8h0M380.3 203h0M380.4 204.7h0M380.6 197.2h0M380.8 196.9h0M380.9 200.2h0M381.1 200.2h0M381.3 201.1h0M381.4 198.1h0M381.6 198.3h0M381.7 202.8h0M381.9 203.3h0M382.1 199.4h0M382.2 196.9h0M382.4 207.3h0M382.5 204h0M382.7 201.9h0M382.9 198.1h0M383 199.3h0M383.2 201.6h0M383.3 198.2h0M383.5 205.3h0M383.7 201.3h0M383.8 202h0M384 198h0M384.1 198.4h0M384.3 198.7h0M384.5 201.6h0M384.6 200.1h0M384.8 200h0M384.9 201.7h0M385.1 201.4h0M385.3 204.9h0M385.4 200.3h0M385.6 198h0M385.7 200.8h0M385.9 204.8h0M386.1 199.3h0M386.2 200.9h0M386.4 199.8h0M386.6 201.9h0M386.7 201.5h0M386.9 198.5h0M387 200.1h0M387.2 203.3h0M387.4 200.3h0M387.5 203.3h0M387.7 203.1h0M387.8 199.8h0M388 199.7h0M388.2 203.3h0M388.3 197.5h0M388.5 200.5h0M388.6 195.6h0M388.8 199.6h0M389 198.7h0M389.1 197.3h0M389.3 202.2h0M389.4 203.7h0M389.6 199.6h0M389.8 199.9h0M389.9 198.6h0M390.1 204.5h0M390.2 199.2h0M390.4 201.1h0M390.6 197h0M390.7 199.2h0M390.9 199.6h0M391.1 199.7h0M391.2 203.1h0M391.4 200.9h0M391.5 204.7h0M391.7 200.1h0M391.9 200h0M392 199.3h0M392.2 207.3h0M392.3 204.8h0M392.5 201.9h0M392.7 209.3h0M392.8 198.3h0M393 199.8h0M393.1 205.1h0M393.3 200.5h0M393.5 197.8h0M393.6 198h0M393.8 201.6h0M393.9 201h0M394.1 194.3h0M394.3 200.4h0M394.4 203.6h0M394.6 198.3h0M394.7 200.7h0M394.9 196h0M395.1 202.3h0M395.2 196.9h0M395.4 196.5h0M395.6 199.1h0M395.7 206.4h0M395.9 185.9h0M396 196.4h0M396.2 201.1h0M396.4 200.5h0M396.5 204.4h0M396.7 196.3h0M396.8 195.4h0M397 198.9h0M397.2 200.8h0M397.3 200.7h0M397.5 202.7h0M397.6 195.6h0M397.8 197.4h0M398 199.3h0M398.1 201.9h0M398.3 200.9h0M398.4 198.4h0M398.6 196.8h0M398.8 202h0M398.9 197.7h0M399.1 207h0M399.2 199h0M399.4 203.9h0M399.6 188.9h0M399.7 197.9h0M399.9 197.6h0M400 198.1h0M400.2 197h0M400.4 197.9h0M400.5 199.2h0M400.7 198.1h0M400.9 201.1h0M401 199h0M401.2 199.3h0M401.3 203.3h0M401.5 200.1h0M401.7 197.5h0M401.8 199.1h0M402 199.3h0M402.1 200.7h0M402.3 196.9h0M402.5 202.2h0M402.6 203.4h0M402.8 202.2h0M402.9 197.7h0M403.1 202.8h0M403.3 197.8h0M403.4 199.4h0M403.6 201.2h0M403.7 198.4h0M403.9 198.1h0M404.1 203.1h0M404.2 197h0M404.4 201.8h0M404.5 201.3h0M404.7 195.2h0M404.9 199.6h0M405 197.3h0M405.2 196.2h0M405.4 193.7h0M405.5 194.5h0M405.7 199.9h0M405.8 197.7h0M406 191.8h0M406.2 195.8h0M406.3 197.8h0M406.5 198h0M406.6 194.5h0M406.8 194.1h0M407 199.9h0M407.1 199.1h0M407.3 196.1h0M407.4 198.4h0M407.6 192.6h0M407.8 203.7h0M407.9 196.2h0M408.1 200.3h0M408.2 204.5h0M408.4 198.8h0M408.6 202.7h0M408.7 199.8h0M408.9 202.6h0M409 198.6h0M409.2 193.5h0M409.4 200.7h0M409.5 201.5h0M409.7 201.9h0M409.9 201.9h0M410 198.5h0M410.2 196.5h0M410.3 197.3h0M410.5 198.4h0M410.7 199.6h0M410.8 197.2h0M411 197.3h0M411.1 200.9h0M411.3 199.4h0M411.5 207.6h0M411.6 204.4h0M411.8 195.3h0M411.9 196.9h0M412.1 194.9h0" stroke="#00f000" stroke-width="2.3" stroke-linecap="round" fill="none"/><line x1="39.5" y1="193.5" x2="412.1" y2="193.5" stroke="#ff5050" stroke-width="1.4"/><line x1="39.5" y1="209.5" x2="412.1" y2="209.5" stroke="#ff5050" stroke-width="1.4"/><text class="an" x="269" y="190.6" style="fill:#ff4040;stroke:#ff4040;font-size:8.4px">0.05</text><text class="an" x="260.5" y="218.8" style="fill:#ff4040;stroke:#ff4040;font-size:8.4px">—0.05</text><rect x="125.5" y="199" width="63" height="8.5" fill="#fff"/><text class="an" x="126" y="206.7" style="fill:#111">Error of VBGRU</text><rect x="39.5" y="16.5" width="403" height="216" fill="none" stroke="#5e5e5e" stroke-width="1.4"/><path d="M39.5 232.5v-3.5M39.5 16.5v3.5M120.1 232.5v-3.5M120.1 16.5v3.5M200.7 232.5v-3.5M200.7 16.5v3.5M281.3 232.5v-3.5M281.3 16.5v3.5M361.9 232.5v-3.5M361.9 16.5v3.5M442.5 232.5v-3.5M442.5 16.5v3.5M39.5 232.5h4M442.5 232.5h-4M39.5 201.6h4M442.5 201.6h-4M39.5 170.8h4M442.5 170.8h-4M39.5 139.9h4M442.5 139.9h-4M39.5 109.1h4M442.5 109.1h-4M39.5 78.2h4M442.5 78.2h-4M39.5 47.4h4M442.5 47.4h-4M39.5 16.5h4M442.5 16.5h-4" stroke="#5e5e5e" stroke-width="1.4" fill="none"/><text class="tk" x="39.5" y="243.3" text-anchor="middle">0</text><text class="tk" x="120.1" y="243.3" text-anchor="middle">500</text><text class="tk" x="200.7" y="243.3" text-anchor="middle">1000</text><text class="tk" x="281.3" y="243.3" text-anchor="middle">1500</text><text class="tk" x="361.9" y="243.3" text-anchor="middle">2000</text><text class="tk" x="442.5" y="243.3" text-anchor="middle">2500</text><text class="tk" x="35.2" y="234.3" text-anchor="end">−0.2</text><text class="tk" x="35.2" y="203.4" text-anchor="end">0</text><text class="tk" x="35.2" y="172.6" text-anchor="end">0.2</text><text class="tk" x="35.2" y="141.7" text-anchor="end">0.4</text><text class="tk" x="35.2" y="110.9" text-anchor="end">0.6</text><text class="tk" x="35.2" y="80" text-anchor="end">0.8</text><text class="tk" x="35.2" y="49.2" text-anchor="end">1</text><text class="tk" x="35.2" y="18.3" text-anchor="end">1.2</text><text class="ti" x="240.5" y="12" text-anchor="middle">VBGRU Output Data Analysis</text><text class="ti" transform="translate(11.8,124.5) rotate(-90)" text-anchor="middle">GNSS RMSE(m/s)</text><rect x="349.5" y="93.8" width="84" height="35" fill="#fff" stroke="#444" stroke-width="0.8"/><circle cx="361.7" cy="100.6" r="0.8" fill="#ff0000"/><line x1="352.3" y1="111.2" x2="371.5" y2="111.2" stroke="#3333ff" stroke-width="1"/><circle cx="361.7" cy="122.3" r="0.8" fill="#00e000"/><text class="lg" x="374" y="103.1">Estimated value</text><text class="lg" x="374" y="114.1">True value</text><text class="lg" x="374" y="125.1">VBGRU Error</text><text x="228.8" y="269.6" text-anchor="middle" style="font-family:'Liberation Serif',serif;font-size:12.2px;fill:#111;stroke:#111;stroke-width:0.25px">(<tspan font-weight="bold">a</tspan>)</text><rect x="39.5" y="291.5" width="405" height="217" fill="none" stroke="#5e5e5e" stroke-width="1.4"/><path d="M39.5 508.5v-3.5M39.5 291.5v3.5M120.5 508.5v-3.5M120.5 291.5v3.5M201.5 508.5v-3.5M201.5 291.5v3.5M282.5 508.5v-3.5M282.5 291.5v3.5M363.5 508.5v-3.5M363.5 291.5v3.5M444.5 508.5v-3.5M444.5 291.5v3.5M39.5 508.5h4M444.5 508.5h-4M39.5 465.1h4M444.5 465.1h-4M39.5 421.7h4M444.5 421.7h-4M39.5 378.3h4M444.5 378.3h-4M39.5 334.9h4M444.5 334.9h-4M39.5 291.5h4M444.5 291.5h-4" stroke="#5e5e5e" stroke-width="1.4" fill="none"/><polyline points="39.5,464.2 39.7,326.2 39.8,448.2 40,487.5 40.1,478 40.3,426.5 40.5,457.2 40.6,462.6 40.8,389.2 41,429.9 41.1,482.9 41.3,417.6 41.4,427.1 41.6,427.6 41.8,416.7 41.9,433.8 42.1,410.4 42.3,449.8 42.4,341.8 42.6,462.6 42.7,455.1 42.9,440.8 43.1,428.1 43.2,469 43.4,455.2 43.5,462.8 43.7,476.1 43.9,478.5 44,459.4 44.2,483 44.4,408.8 44.5,405.9 44.7,474.9 44.8,490.8 45,416.6 45.2,481.5 45.3,496.3 45.5,453.2 45.7,488.2 45.8,498.2 46,439.1 46.1,484 46.3,471.9 46.5,441.1 46.6,467.7 46.8,460 46.9,347.1 47.1,447.5 47.3,481 47.4,425.6 47.6,337.5 47.8,500.7 47.9,455.7 48.1,424.2 48.2,495.3 48.4,451.1 48.6,436.4 48.7,430.7 48.9,409.8 49.1,464 49.2,482.3 49.4,415.3 49.5,401.6 49.7,449.1 49.9,434.6 50,432.5 50.2,426.4 50.3,455.5 50.5,456.8 50.7,494.2 50.8,451.3 51,474.3 51.2,455.8 51.3,408.8 51.5,434.8 51.6,465 51.8,398.6 52,454.7 52.1,445.5 52.3,488.4 52.5,504.8 52.6,452.2 52.8,377.4 52.9,477.9 53.1,493.5 53.3,386.1 53.4,419.7 53.6,452 53.7,431.1 53.9,418 54.1,422.9 54.2,483.3 54.4,422.3 54.6,501.5 54.7,478.4 54.9,473.2 55,473.4 55.2,461.2 55.4,412.1 55.5,493.6 55.7,421.8 55.9,505.8 56,484.6 56.2,463 56.3,490.7 56.5,468.2 56.7,367.9 56.8,445.5 57,468.2 57.1,467.3 57.3,466.3 57.5,482.1 57.6,434.7 57.8,426 58,455.2 58.1,456.4 58.3,429 58.4,386.1 58.6,491.5 58.8,433.5 58.9,507.3 59.1,480.7 59.3,432.6 59.4,483 59.6,502.6 59.7,504.9 59.9,493.5 60.1,476.4 60.2,488.9 60.4,502.6 60.6,472.4 60.7,496.6 60.9,486.5 61,485 61.2,502.9 61.4,477.9 61.5,485.1 61.7,507 61.8,499.5 62,487.5 62.2,496.6 62.3,491.1 62.5,499.5 62.7,499.8 62.8,491 63,446.9 63.1,493.6 63.3,497 63.5,505.5 63.6,505.7 63.8,505.5 64,487.9 64.1,506.6 64.3,478.7 64.4,503.9 64.6,507.2 64.8,492.3 64.9,492 65.1,493.4 65.2,504.9 65.4,498.3 65.6,485.7 65.7,488.1 65.9,501.6 66.1,500.5 66.2,502.5 66.4,507.6 66.5,498 66.7,499.7 66.9,487.8 67,493.4 67.2,500.1 67.4,477.1 67.5,507.9 67.7,507.1 67.8,505.5 68,507.9 68.2,506.8 68.3,491.6 68.5,491.5 68.6,468.6 68.8,504.1 69,490.4 69.1,490.8 69.3,504.2 69.5,497.3 69.6,505.6 69.8,498.3 69.9,493.8 70.1,496.9 70.3,502.2 70.4,502.4 70.6,480.6 70.8,498.3 70.9,501.5 71.1,492.3 71.2,488.4 71.4,487.3 71.6,503 71.7,494.9 71.9,487.6 72,493.1 72.2,503 72.4,508.4 72.5,466.8 72.7,495.9 72.9,479.9 73,504.3 73.2,504.3 73.3,498.6 73.5,506 73.7,505.2 73.8,500.5 74,443.4 74.2,487.1 74.3,495.3 74.5,484.8 74.6,497 74.8,485.7 75,480.2 75.1,503.3 75.3,488.6 75.4,488 75.6,500.5 75.8,500.5 75.9,498.4 76.1,507.3 76.3,500.1 76.4,507.9 76.6,498.8 76.7,490.9 76.9,497.9 77.1,507 77.2,485.5 77.4,499.1 77.6,496.4 77.7,507.6 77.9,491.3 78,502.6 78.2,494.2 78.4,482.5 78.5,500.8 78.7,484 78.8,507.4 79,485 79.2,507.3 79.3,502.1 79.5,504.2 79.7,508.4 79.8,477.2 80,490.8 80.1,504.3 80.3,503.5 80.5,508.3 80.6,479.6 80.8,505.8 81,493.9 81.1,503.7 81.3,491.9 81.4,491.3 81.6,507.5 81.8,498.3 81.9,499.5 82.1,499.8 82.2,500.7 82.4,488.7 82.6,493.1 82.7,503.6 82.9,496.1 83.1,504.1 83.2,504.1 83.4,506.4 83.5,493.7 83.7,498.2 83.9,504 84,500.4 84.2,493.5 84.4,498.5 84.5,500.6 84.7,501.8 84.8,493.2 85,488 85.2,505.2 85.3,483.6 85.5,495.1 85.6,492 85.8,505.6 86,495.4 86.1,496.4 86.3,500.9 86.5,505.1 86.6,494.5 86.8,491.9 86.9,504.7 87.1,499.8 87.3,508.5 87.4,504 87.6,494.5 87.8,472 87.9,507.7 88.1,503.9 88.2,507.6 88.4,506.3 88.6,496.1 88.7,502.2 88.9,494.9 89,505.7 89.2,492 89.4,494.9 89.5,492.5 89.7,507 89.9,499.4 90,500.8 90.2,501.2 90.3,497.6 90.5,496 90.7,507.2 90.8,507.9 91,489.3 91.2,508.2 91.3,505.3 91.5,492.2 91.6,493.8 91.8,498.8 92,497 92.1,498.2 92.3,479.5 92.4,496.1 92.6,485 92.8,501 92.9,493.4 93.1,507.8 93.3,498.9 93.4,502.3 93.6,506 93.7,499.6 93.9,499.1 94.1,508.4 94.2,499.4 94.4,504.1 94.6,503.3 94.7,492.4 94.9,502.9 95,503.7 95.2,501.5 95.4,506 95.5,505.7 95.7,501.2 95.8,505.9 96,494.1 96.2,488.1 96.3,492.8 96.5,506.6 96.7,492.6 96.8,503.9 97,489 97.1,494.8 97.3,492.4 97.5,502 97.6,496 97.8,503.5 98,498.7 98.1,505.5 98.3,488.4 98.4,498.2 98.6,505.9 98.8,508.2 98.9,484.7 99.1,495.8 99.2,500.8 99.4,506.3 99.6,506.2 99.7,499.9 99.9,492.6 100.1,505.6 100.2,500 100.4,502.3 100.5,505.9 100.7,504.2 100.9,507.3 101,507 101.2,507.8 101.4,480 101.5,501.7 101.7,497.7 101.8,498.5 102,485.7 102.2,492.3 102.3,507.7 102.5,500.4 102.7,501.6 102.8,491.6 103,501.2 103.1,505.4 103.3,504.2 103.5,503.7 103.6,505.1 103.8,503.1 103.9,498.7 104.1,508 104.3,494.5 104.4,504.9 104.6,508 104.8,505.1 104.9,501.2 105.1,502.3 105.2,497 105.4,505.1 105.6,506.9 105.7,506.8 105.9,505.2 106.1,498.1 106.2,500.1 106.4,494.2 106.5,489.9 106.7,494.9 106.9,501 107,499.9 107.2,489.9 107.3,496.6 107.5,491.6 107.7,505 107.8,503.9 108,492.6 108.2,497.6 108.3,500.3 108.5,490.5 108.6,504.2 108.8,506.5 109,501.8 109.1,501.3 109.3,501.7 109.5,492.2 109.6,506.4 109.8,506.5 109.9,500.8 110.1,507.4 110.3,506.8 110.4,499.5 110.6,495.5 110.7,507.2 110.9,503.5 111.1,508.2 111.2,500.2 111.4,506.3 111.6,499.4 111.7,506.9 111.9,503.1 112,503.9 112.2,504.9 112.4,504.6 112.5,501.6 112.7,506.8 112.9,505.3 113,501.2 113.2,501.8 113.3,502.3 113.5,502.8 113.7,503.1 113.8,498.3 114,503.2 114.1,502.4 114.3,496.6 114.5,506.8 114.6,505.7 114.8,501 115,502.8 115.1,504.2 115.3,506.6 115.4,505.2 115.6,504.2 115.8,498.9 115.9,508.1 116.1,501.1 116.3,498.3 116.4,500.5 116.6,499.1 116.7,504.2 116.9,508.2 117.1,488.1 117.2,503.4 117.4,494 117.5,495.7 117.7,483.3 117.9,505.3 118,502.5 118.2,496 118.4,506.5 118.5,505.2 118.7,505.4 118.8,499.9 119,498.6 119.2,506.5 119.3,507.3 119.5,501.4 119.7,504.3 119.8,502.3 120,505.1 120.1,500.8 120.3,490.1 120.5,501.5 120.6,502.6 120.8,505.2 120.9,500.1 121.1,492.7 121.3,493.6 121.4,486.6 121.6,508.3 121.8,504.7 121.9,505.8 122.1,497.4 122.2,506.5 122.4,506.4 122.6,498.9 122.7,507.6 122.9,499.1 123.1,497.2 123.2,506.6 123.4,508 123.5,500.7 123.7,497.8 123.9,503.5 124,495.1 124.2,506.8 124.3,504.4 124.5,506.9 124.7,507.1 124.8,501.6 125,507.5 125.2,497.9 125.3,495.5 125.5,496 125.6,502.6 125.8,503.1 126,496.4 126.1,505 126.3,506.6 126.5,501.3 126.6,492.1 126.8,501.1 126.9,495.7 127.1,504.4 127.3,500.5 127.4,499.9 127.6,507.6 127.7,499 127.9,500.2 128.1,507.5 128.2,503.1 128.4,498.5 128.6,508.3 128.7,502.7 128.9,502 129,500.9 129.2,502.8 129.4,502.8 129.5,503.6 129.7,500 129.9,505.4 130,503.7 130.2,507 130.3,502.4 130.5,498.2 130.7,491.4 130.8,501.1 131,505.7 131.1,499 131.3,506.4 131.5,490 131.6,503 131.8,494.4 132,496.4 132.1,503.2 132.3,502.8 132.4,504 132.6,502.3 132.8,502.8 132.9,505.4 133.1,503.2 133.3,508.3 133.4,505.1 133.6,494.6 133.7,504.6 133.9,503.3 134.1,506.2 134.2,498.3 134.4,501.9 134.5,498.1 134.7,504.4 134.9,505.5 135,504.1 135.2,507.5 135.4,504.6 135.5,495.1 135.7,506.8 135.8,507.1 136,503.7 136.2,504.8 136.3,503.4 136.5,507.6 136.7,497.3 136.8,492.5 137,503.2 137.1,505.1 137.3,505 137.5,504.9 137.6,503.9 137.8,506.4 137.9,507.7 138.1,500.6 138.3,499.9 138.4,501.6 138.6,495.2 138.8,499.3 138.9,507.5 139.1,495.7 139.2,507.1 139.4,500.4 139.6,507.6 139.7,507.3 139.9,499.8 140.1,503.5 140.2,500.1 140.4,507.8 140.5,508.3 140.7,506.6 140.9,507.5 141,505.4 141.2,497.6 141.3,501.5 141.5,501.1 141.7,508.2 141.8,504 142,507.2 142.2,503.2 142.3,507.5 142.5,502.9 142.6,507.3 142.8,502.4 143,503.6 143.1,505.1 143.3,507.6 143.5,507.1 143.6,505.8 143.8,508.3 143.9,502.3 144.1,508 144.3,506.5 144.4,506 144.6,507.9 144.8,496.4 144.9,505.7 145.1,505.1 145.2,503.6 145.4,501.1 145.6,507.5 145.7,504 145.9,503.5 146,502.4 146.2,498.1 146.4,503.2 146.5,501.9 146.7,507.3 146.9,507.5 147,502.2 147.2,507.1 147.3,504.7 147.5,505 147.7,506.9 147.8,499.6 148,506.1 148.2,504.8 148.3,500.8 148.5,504.6 148.6,508.2 148.8,505.8 149,507 149.1,494 149.3,507.4 149.4,508.3 149.6,506.4 149.8,501.4 149.9,505.6 150.1,493.2 150.3,497.2 150.4,506.7 150.6,504.6 150.7,508.4 150.9,503.2 151.1,506.3 151.2,505 151.4,499 151.6,507.5 151.7,496.3 151.9,501 152,505.7 152.2,506.7 152.4,507.5 152.5,502.5 152.7,503 152.8,506.4 153,508 153.2,498.9 153.3,507.5 153.5,503.9 153.7,506 153.8,505.8 154,503.7 154.1,504.3 154.3,504.1 154.5,504.7 154.6,507.6 154.8,507.6 155,506.2 155.1,506.4 155.3,501.2 155.4,506 155.6,508.5 155.8,498.1 155.9,508.4 156.1,503.8 156.2,501.1 156.4,503.6 156.6,503.1 156.7,494.4 156.9,501 157.1,506.2 157.2,506.6 157.4,505.6 157.5,499.3 157.7,505.4 157.9,507.5 158,508.1 158.2,508.4 158.4,504.3 158.5,504.7 158.7,508.3 158.8,506.5 159,502.9 159.2,506.3 159.3,507.1 159.5,505.6 159.6,507.4 159.8,501.5 160,508.4 160.1,503.3 160.3,504.7 160.5,507.7 160.6,501.6 160.8,502 160.9,502.2 161.1,495.8 161.3,503.9 161.4,495.5 161.6,508.3 161.8,507.3 161.9,494.7 162.1,504.6 162.2,506.7 162.4,500.4 162.6,502.8 162.7,507.1 162.9,502.7 163,507.4 163.2,503.9 163.4,496.8 163.5,507.1 163.7,505 163.9,506.1 164,507.4 164.2,507.9 164.3,506.3 164.5,506.9 164.7,504.7 164.8,507.2 165,507.5 165.2,508.5 165.3,507 165.5,508.1 165.6,507.2 165.8,507 166,507.1 166.1,504.4 166.3,508.3 166.4,503.9 166.6,506.9 166.8,494.6 166.9,503.6 167.1,507.7 167.3,508.4 167.4,507.7 167.6,506 167.7,506.2 167.9,506.7 168.1,503.4 168.2,507.7 168.4,501.1 168.6,504.1 168.7,506.4 168.9,504.4 169,497.8 169.2,500.5 169.4,505.9 169.5,504.4 169.7,508.4 169.8,505.7 170,506.8 170.2,503.5 170.3,508 170.5,506.3 170.7,504.1 170.8,502.7 171,504.2 171.1,506.1 171.3,508.2 171.5,499.2 171.6,504.2 171.8,503.3 172,503.8 172.1,506.2 172.3,504 172.4,507.6 172.6,504.9 172.8,506 172.9,506.7 173.1,502.7 173.2,506.6 173.4,503.6 173.6,506.6 173.7,505.7 173.9,503.1 174.1,497.5 174.2,503 174.4,505.1 174.5,506.6 174.7,508 174.9,494.7 175,506.7 175.2,504.6 175.4,506.6 175.5,501.3 175.7,505.7 175.8,499.6 176,502.5 176.2,502.9 176.3,502.9 176.5,508.3 176.6,507.1 176.8,504.2 177,504 177.1,501.5 177.3,501.1 177.5,500.1 177.6,507.8 177.8,507.6 177.9,503.9 178.1,504.6 178.3,508.2 178.4,504.2 178.6,507.7 178.8,508.4 178.9,501.7 179.1,500.7 179.2,504.9 179.4,507.8 179.6,507 179.7,505 179.9,504.3 180,504.7 180.2,503.5 180.4,497.9 180.5,505.3 180.7,507.7 180.9,504.2 181,503 181.2,507.5 181.3,506 181.5,505.3 181.7,507.2 181.8,505.2 182,506.8 182.2,505.6 182.3,505.7 182.5,508.5 182.6,507.7 182.8,508.3 183,507.9 183.1,507.1 183.3,507.7 183.4,506.8 183.6,507.8 183.8,507.1 183.9,492.4 184.1,506.7 184.3,508.4 184.4,502 184.6,505.7 184.7,504.1 184.9,503.7 185.1,501.2 185.2,508.1 185.4,503.8 185.6,507.6 185.7,505.1 185.9,507.9 186,506.3 186.2,504.7 186.4,507.2 186.5,505 186.7,502.2 186.9,505.6 187,508.4 187.2,506.8 187.3,491.7 187.5,499.1 187.7,508.1 187.8,501.5 188,499.5 188.1,507.2 188.3,505.4 188.5,506.8 188.6,494.4 188.8,508.1 189,507.4 189.1,498 189.3,504.5 189.4,502.2 189.6,499.6 189.8,504.4 189.9,507.9 190.1,504.4 190.3,507.8 190.4,508.3 190.6,508.3 190.7,507.1 190.9,508.3 191.1,505.4 191.2,508 191.4,506.5 191.5,508.2 191.7,507.3 191.9,508.5 192,508.4 192.2,507.6 192.4,508.3 192.5,506.4 192.7,508 192.8,504.9 193,499.4 193.2,507.8 193.3,508.4 193.5,507.4 193.7,506.6 193.8,506.6 194,505 194.1,508 194.3,502.7 194.5,505.2 194.6,508.3 194.8,506 194.9,507.9 195.1,505.8 195.3,505.6 195.4,507.5 195.6,506.4 195.8,508 195.9,508.4 196.1,506.7 196.2,506.8 196.4,506.9 196.6,507 196.7,504.9 196.9,505.1 197.1,508 197.2,506.3 197.4,507.7 197.5,507.6 197.7,508.3 197.9,507.5 198,504.8 198.2,504.2 198.3,507.6 198.5,508.3 198.7,504.9 198.8,506.3 199,503.4 199.2,507.1 199.3,507.9 199.5,508.2 199.6,507.7 199.8,507.1 200,508 200.1,507.6 200.3,507.7 200.5,506.4 200.6,508 200.8,506.9 200.9,508 201.1,506.6 201.3,508.1 201.4,507.8 201.6,506.3 201.7,507.6 201.9,506 202.1,508.4 202.2,505.4 202.4,506 202.6,507.2 202.7,508.4 202.9,508.2 203,506.9 203.2,508.4 203.4,506.8 203.5,507.4 203.7,506.2 203.9,505.7 204,506.3 204.2,507.7 204.3,502.7 204.5,507.4 204.7,505.7 204.8,507.5 205,508.2 205.1,508.3 205.3,505.5 205.5,507.5 205.6,506.3 205.8,508 206,507.9 206.1,501.7 206.3,508.5 206.4,507.8 206.6,508 206.8,508.2 206.9,508.4 207.1,508.3 207.3,507.8 207.4,506.8 207.6,507.5 207.7,507.8 207.9,507.5 208.1,506.9 208.2,507.5 208.4,506 208.5,507.4 208.7,508.2 208.9,508.5 209,506.8 209.2,506.6 209.4,506.7 209.5,506.6 209.7,506.9 209.8,508 210,507.3 210.2,507.2 210.3,506.7 210.5,506.8 210.7,506.7 210.8,506.8 211,506.4 211.1,507.1 211.3,507.7 211.5,507.8 211.6,508 211.8,508.5 211.9,506.9 212.1,507.6 212.3,506.9 212.4,508.2 212.6,505.4 212.8,505.8 212.9,508.3 213.1,507.8 213.2,501.1 213.4,507 213.6,506.3 213.7,508.5 213.9,504.5 214.1,506.6 214.2,505.1 214.4,506.2 214.5,503.1 214.7,507.7 214.9,508.1 215,508.5 215.2,507 215.3,507.2 215.5,507.9 215.7,508.2 215.8,507 216,505.2 216.2,507.2 216.3,506.5 216.5,506.1 216.6,507.6 216.8,507.4 217,507.2 217.1,507.7 217.3,505.4 217.5,504.2 217.6,505.7 217.8,507.6 217.9,507.8 218.1,507.3 218.3,507.1 218.4,507.7 218.6,506.3 218.7,507.8 218.9,506.4 219.1,504.4 219.2,508.1 219.4,506.7 219.6,507 219.7,507.8 219.9,507.2 220,501.8 220.2,504.7 220.4,506.4 220.5,508.2 220.7,506.1 220.9,507.1 221,508.1 221.2,508.1 221.3,507.2 221.5,507.6 221.7,507.7 221.8,506.4 222,506.5 222.1,505 222.3,508.3 222.5,506.5 222.6,505.6 222.8,508.2 223,507.2 223.1,507.1 223.3,508 223.4,507.2 223.6,503.8 223.8,506.6 223.9,505.9 224.1,507.3 224.3,507.5 224.4,508.4 224.6,507.4 224.7,506 224.9,505 225.1,505.7 225.2,505.8 225.4,506.7 225.5,506.7 225.7,506.3 225.9,508.5 226,507.6 226.2,504.6 226.4,508.1 226.5,504.7 226.7,507.4 226.8,506.8 227,508 227.2,506.5 227.3,507.6 227.5,505.2 227.7,504.5 227.8,507.7 228,503.9 228.1,507.2 228.3,507.8 228.5,507.1 228.6,508.4 228.8,508.4 229,507.1 229.1,507.5 229.3,507.9 229.4,508.3 229.6,506.5 229.8,508.5 229.9,508.2 230.1,506.9 230.2,508.4 230.4,508.1 230.6,508.2 230.7,506.9 230.9,508.1 231.1,507.7 231.2,501.2 231.4,507.4 231.5,505.1 231.7,506.5 231.9,504.8 232,508.3 232.2,505.5 232.4,503.9 232.5,508.2 232.7,506.9 232.8,508 233,506.7 233.2,506.9 233.3,504 233.5,507.4 233.6,507.4 233.8,507.4 234,507.2 234.1,508.1 234.3,508 234.5,506.3 234.6,508 234.8,508.4 234.9,505.9 235.1,508 235.3,504.4 235.4,506.9 235.6,508.1 235.8,505.9 235.9,507.8 236.1,506.2 236.2,507.6 236.4,508.1 236.6,507.9 236.7,506.3 236.9,507.4 237,507.1 237.2,508.1 237.4,506.6 237.5,508 237.7,508.1 237.9,508.5 238,507.7 238.2,508.4 238.3,506.6 238.5,507.4 238.7,505 238.8,507.6 239,507.8 239.2,507.7 239.3,508.4 239.5,506 239.6,507 239.8,505.9 240,507 240.1,505.8 240.3,508.4 240.4,505 240.6,506.8 240.8,507.9 240.9,507.3 241.1,508 241.3,505.3 241.4,507.8 241.6,506.7 241.7,507.6 241.9,508.2 242.1,507.6 242.2,504.6 242.4,508.4 242.6,506.9 242.7,507.5 242.9,504.9 243,504 243.2,506.8 243.4,507.6 243.5,507.9 243.7,507.5 243.8,506.5 244,506.8 244.2,505.4 244.3,506.6 244.5,506.9 244.7,506.7 244.8,506.3 245,507.3 245.1,507.4 245.3,506.5 245.5,507.9 245.6,507.3 245.8,508.1 246,507.8 246.1,504.6 246.3,506.3 246.4,506.3 246.6,508 246.8,507.9 246.9,507.7 247.1,507.9 247.2,506.5 247.4,506.2 247.6,504.8 247.7,505.7 247.9,506 248.1,505.6 248.2,506.6 248.4,506.6 248.5,508.5 248.7,507.7 248.9,506.5 249,507.8 249.2,508 249.4,507.2 249.5,508 249.7,508.4 249.8,505.2 250,507.5 250.2,505.1 250.3,506.7 250.5,507.9 250.6,502.7 250.8,506.4 251,505.7 251.1,508.5 251.3,507.3 251.5,507.2 251.6,508 251.8,506.7 251.9,507.9 252.1,508.3 252.3,508.3 252.4,504.8 252.6,507.1 252.8,506.9 252.9,506.3 253.1,507.4 253.2,506.9 253.4,507.8 253.6,507.5 253.7,505.8 253.9,508.4 254,506.3 254.2,508.1 254.4,505.6 254.5,504.6 254.7,507.9 254.9,507.7 255,508.4 255.2,506 255.3,507.5 255.5,508.4 255.7,507.8 255.8,507.9 256,506.5 256.2,506.1 256.3,504.8 256.5,508.4 256.6,504 256.8,505.9 257,505.7 257.1,507.2 257.3,507.7 257.4,507.4 257.6,506.3 257.8,507.3 257.9,508.4 258.1,505.9 258.3,508.5 258.4,508.5 258.6,505.9 258.7,506.7 258.9,503.2 259.1,506.6 259.2,506.7 259.4,508.3 259.6,505.8 259.7,507.1 259.9,506.4 260,505.8 260.2,505.6 260.4,508.5 260.5,507.9 260.7,508.3 260.8,508.4 261,507.8 261.2,505 261.3,507.2 261.5,505.2 261.7,504.2 261.8,506.8 262,506.7 262.1,507.1 262.3,507.6 262.5,507.2 262.6,506.2 262.8,508 263,507.7 263.1,508.5 263.3,506.8 263.4,507.2 263.6,507.9 263.8,503.1 263.9,507.7 264.1,506.2 264.2,508.4 264.4,507 264.6,504.1 264.7,508 264.9,507.7 265.1,508.5 265.2,506.5 265.4,507.3 265.5,507.5 265.7,507.2 265.9,507.4 266,507.7 266.2,507.4 266.4,503.6 266.5,507.8 266.7,507.6 266.8,508 267,502.5 267.2,507.7 267.3,504.6 267.5,507.5 267.6,506.3 267.8,506.7 268,507.1 268.1,507.9 268.3,508.3 268.5,507.7 268.6,505.5 268.8,506.1 268.9,506.4 269.1,507.1 269.3,504.7 269.4,508.3 269.6,506.7 269.8,504.6 269.9,508.4 270.1,508.4 270.2,508.3 270.4,507 270.6,507 270.7,507.9 270.9,506.8 271.1,507.8 271.2,507.2 271.4,507.5 271.5,506.9 271.7,508.4 271.9,508.4 272,507.8 272.2,508.3 272.3,508 272.5,508.2 272.7,507.3 272.8,507.1 273,506.3 273.2,507.2 273.3,507 273.5,508.4 273.6,507.4 273.8,507.3 274,505.8 274.1,507.1 274.3,506.7 274.5,508.2 274.6,506.5 274.8,508.3 274.9,508.2 275.1,505.4 275.3,506.8 275.4,505.3 275.6,507.4 275.7,506.6 275.9,508.1 276.1,507 276.2,508.1 276.4,508.5 276.6,507.8 276.7,508 276.9,506.3 277,506.6 277.2,506.1 277.4,508.1 277.5,508 277.7,507.4 277.9,507.8 278,506.4 278.2,508 278.3,508.4 278.5,507.8 278.7,507.3 278.8,507.4 279,503.4 279.1,507.1 279.3,507 279.5,506.8 279.6,507.1 279.8,507.3 280,507.9 280.1,506.8 280.3,508.4 280.4,507.7 280.6,508.2 280.8,506.9 280.9,508.1 281.1,507.1 281.3,507.9 281.4,508.4 281.6,507.8 281.7,507.6 281.9,505.9 282.1,506.9 282.2,508.3 282.4,507.7 282.5,506.1 282.7,507.6 282.9,506.9 283,506.9 283.2,507.8 283.4,507 283.5,508.3 283.7,507.9 283.8,507.6 284,508 284.2,508.4 284.3,506.2 284.5,507.3 284.7,505.6 284.8,506.2 285,506.7 285.1,508.3 285.3,507.3 285.5,508.2 285.6,508.4 285.8,508.3 285.9,506.5 286.1,507.2 286.3,507.3 286.4,507.3 286.6,505.1 286.8,508.1 286.9,507.2 287.1,506.9 287.2,505.8 287.4,506.4 287.6,507.7 287.7,507.3 287.9,508.2 288.1,506.6 288.2,508.5 288.4,508.1 288.5,506.3 288.7,507.3 288.9,506.7 289,507.7 289.2,504.4 289.3,508.5 289.5,508.2 289.7,508 289.8,505.2 290,508.5 290.2,506.4 290.3,507.7 290.5,506.3 290.6,507.5 290.8,508.1 291,508.1 291.1,508.2 291.3,508.1 291.5,505.6 291.6,505.9 291.8,508.3 291.9,507.1 292.1,507.9 292.3,508.4 292.4,505.6 292.6,508.5 292.7,508.4 292.9,508.2 293.1,508.4 293.2,501.3 293.4,508 293.6,508.3 293.7,506.6 293.9,506.6 294,507.7 294.2,507.9 294.4,508 294.5,506.6 294.7,506.9 294.9,508.3 295,505.4 295.2,508.4 295.3,508 295.5,504.8 295.7,508 295.8,506.6 296,507.7 296.1,505.9 296.3,506.4 296.5,507.8 296.6,507.8 296.8,505.2 297,508.4 297.1,507.9 297.3,507.7 297.4,506.7 297.6,508 297.8,508.3 297.9,507.5 298.1,508.2 298.3,507 298.4,508.5 298.6,507.4 298.7,507.6 298.9,508.4 299.1,505.7 299.2,507.8 299.4,507.6 299.5,506.9 299.7,507.6 299.9,504.4 300,506.4 300.2,508.4 300.4,507 300.5,506.9 300.7,508.3 300.8,508.3 301,507.9 301.2,507.8 301.3,508.2 301.5,507.6 301.7,507.8 301.8,506.8 302,507.3 302.1,502.4 302.3,503.7 302.5,508 302.6,503.4 302.8,508.2 302.9,508.1 303.1,507.5 303.3,507.6 303.4,508.1 303.6,507.7 303.8,507 303.9,507.4 304.1,506.9 304.2,507.2 304.4,506.9 304.6,506.5 304.7,507.9 304.9,507.2 305.1,504.8 305.2,507.6 305.4,507.9 305.5,506.6 305.7,507.9 305.9,507.4 306,507.6 306.2,508.2 306.3,506.4 306.5,507.4 306.7,505.8 306.8,507.9 307,508.5 307.2,507.7 307.3,508.2 307.5,508.3 307.6,508.3 307.8,507.5 308,508 308.1,507.9 308.3,507 308.5,504.7 308.6,506.7 308.8,506.9 308.9,507.4 309.1,507.9 309.3,506.9 309.4,506.7 309.6,508.4 309.7,507.3 309.9,507 310.1,508 310.2,508 310.4,507.9 310.6,507.2 310.7,507.6 310.9,505.6 311,506.9 311.2,508.2 311.4,507.6 311.5,508.2 311.7,507 311.9,508.2 312,505.6 312.2,507.8 312.3,506.2 312.5,508.3 312.7,508.1 312.8,507.4 313,508 313.2,507.4 313.3,507.8 313.5,506.3 313.6,508.2 313.8,508 314,506.3 314.1,507.7 314.3,508.4 314.4,507.1 314.6,508.1 314.8,507.3 314.9,504.6 315.1,508.1 315.3,506.8 315.4,506.4 315.6,507.1 315.7,508.5 315.9,507 316.1,507.3 316.2,508.1 316.4,508.4 316.6,508.2 316.7,507.7 316.9,506.6 317,504.4 317.2,508.1 317.4,506.9 317.5,505.4 317.7,505.8 317.8,505.4 318,507.3 318.2,507.1 318.3,506.8 318.5,506.3 318.7,507.8 318.8,505.6 319,508.4 319.1,507.9 319.3,508.3 319.5,504.6 319.6,505.6 319.8,506 320,506.8 320.1,506.2 320.3,506.8 320.4,506.9 320.6,506.6 320.8,508.4 320.9,507.5 321.1,507.3 321.2,507.5 321.4,508.5 321.6,508 321.7,508 321.9,508.1 322.1,505.8 322.2,505.9 322.4,506.2 322.5,508.1 322.7,506.3 322.9,508.2 323,508.3 323.2,506.6 323.4,506.5 323.5,503.3 323.7,505.5 323.8,507.1 324,507.9 324.2,507 324.3,507.3 324.5,508.3 324.6,505.5 324.8,505.9 325,507.1 325.1,506.2 325.3,508.3 325.5,508.3 325.6,507.3 325.8,506.3 325.9,501.7 326.1,508.3 326.3,508.2 326.4,507.5 326.6,507.9 326.8,506.4 326.9,508 327.1,508.5 327.2,505.2 327.4,506.8 327.6,507.6 327.7,507 327.9,504.1 328,506.8 328.2,507.5 328.4,508 328.5,508.2 328.7,507.8 328.9,506.8 329,507.9 329.2,504.4 329.3,507.2 329.5,507.6 329.7,508.3 329.8,506.2 330,506.7 330.2,506.1 330.3,507.6 330.5,508.4 330.6,506.4 330.8,506.5 331,504.3 331.1,507.9 331.3,506.1 331.4,506.1 331.6,508.3 331.8,507.5 331.9,507.7 332.1,507.7 332.3,505.5 332.4,506.2 332.6,507 332.7,506.8 332.9,507.3 333.1,507.3 333.2,507.3 333.4,507.9 333.6,506.6 333.7,507.2 333.9,502.7 334,507.9 334.2,507.4 334.4,506.4 334.5,507.2 334.7,507.4 334.8,507.8 335,507.6 335.2,506 335.3,504.6 335.5,507.9 335.7,508.4 335.8,507.6 336,507 336.1,507.9 336.3,507.8 336.5,508.3 336.6,506.8 336.8,508.5 337,503 337.1,506.8 337.3,508.3 337.4,506.5 337.6,506.6 337.8,508.3 337.9,507.2 338.1,508.1 338.2,507.6 338.4,506.3 338.6,506.7 338.7,508.2 338.9,504.7 339.1,502.7 339.2,505.6 339.4,507.8 339.5,507.2 339.7,506.7 339.9,507.6 340,503.2 340.2,507.8 340.4,506.7 340.5,507.6 340.7,506.1 340.8,501.8 341,505.6 341.2,507.6 341.3,508.4 341.5,507.8 341.6,507.5 341.8,505.8 342,507.7 342.1,506.4 342.3,505.2 342.5,507.9 342.6,508.3 342.8,503.6 342.9,507.2 343.1,508.3 343.3,504.8 343.4,507.3 343.6,505.7 343.8,508.1 343.9,507.3 344.1,507.6 344.2,507.8 344.4,508 344.6,507.6 344.7,507.4 344.9,508.4 345,508.3 345.2,506 345.4,506.7 345.5,506 345.7,507.7 345.9,507.7 346,505.7 346.2,507.7 346.3,507.5 346.5,506.6 346.7,507.8 346.8,508.3 347,507.8 347.2,507 347.3,505.3 347.5,508.4 347.6,506.8 347.8,508.1 348,507.8 348.1,508.4 348.3,507.7 348.4,506.4 348.6,507 348.8,503.1 348.9,508.4 349.1,508 349.3,507.1 349.4,508.3 349.6,506.8 349.7,506.4 349.9,507.5 350.1,506.7 350.2,508.3 350.4,507.2 350.6,507.9 350.7,508.3 350.9,506.4 351,508 351.2,507.6 351.4,508.3 351.5,508.4 351.7,507.5 351.8,506.1 352,507.1 352.2,508.3 352.3,507.4 352.5,505.6 352.7,506.2 352.8,506.4 353,505 353.1,508.2 353.3,508.4 353.5,506 353.6,507.1 353.8,505.6 354,507.9 354.1,506.9 354.3,506.6 354.4,507.4 354.6,508 354.8,508.3 354.9,508.2 355.1,507.1 355.3,507.8 355.4,508.5 355.6,505.9 355.7,508.1 355.9,508 356.1,506.7 356.2,505.5 356.4,507.7 356.5,507.7 356.7,506.9 356.9,507.7 357,507.8 357.2,507.5 357.4,508 357.5,506.3 357.7,505.6 357.8,508.2 358,507.3 358.2,507.4 358.3,508.3 358.5,508 358.7,507.9 358.8,506.9 359,508 359.1,506.5 359.3,508.4 359.5,508 359.6,505.9 359.8,508.3 359.9,507.3 360.1,508.3 360.3,507 360.4,507.5 360.6,507.4 360.8,506.1 360.9,506.6 361.1,508.1 361.2,508.3 361.4,506.8 361.6,508.2 361.7,508.5 361.9,507 362.1,506.7 362.2,507.9 362.4,505.7 362.5,504.4 362.7,506.7 362.9,506.2 363,507.1 363.2,506.1 363.3,504.6 363.5,506.4 363.7,507.9 363.8,507.8 364,508.4 364.2,507.3 364.3,507.5 364.5,507.2 364.6,507.9 364.8,507.7 365,507.3 365.1,508.4 365.3,508 365.5,503.1 365.6,507.7 365.8,507.4 365.9,507.4 366.1,506.9 366.3,506.7 366.4,508.2 366.6,508.4 366.7,508.1 366.9,508.4 367.1,506.8 367.2,506 367.4,506.7 367.6,507.5 367.7,506.8 367.9,507.3 368,507 368.2,504.7 368.4,507.5 368.5,506.8 368.7,506 368.9,507.7 369,506.3 369.2,506.8 369.3,508.1 369.5,504.5 369.7,506.5 369.8,506.6 370,506.7 370.1,507.8 370.3,508.2 370.5,508.5 370.6,503.1 370.8,508.1 371,501.8 371.1,506.1 371.3,506.7 371.4,506.5 371.6,507.5 371.8,506.9 371.9,508.1 372.1,508.3 372.3,507.7 372.4,507.1 372.6,507.8 372.7,505.8 372.9,507.5 373.1,506.2 373.2,508.1 373.4,505.9 373.5,507.4 373.7,505.9 373.9,507.6 374,507.4 374.2,506.1 374.4,506.9 374.5,507.8 374.7,507.4 374.8,507.7 375,507.3 375.2,508.3 375.3,508.1 375.5,508.1 375.7,507.6 375.8,505.8 376,507.7 376.1,507.5 376.3,507.9 376.5,505.2 376.6,508.5 376.8,508 376.9,507.3 377.1,507.3 377.3,507.5 377.4,507.6 377.6,505 377.8,505.5 377.9,507.3 378.1,507.3 378.2,508.2 378.4,507.5 378.6,505.3 378.7,507.1 378.9,507.3 379.1,507.3 379.2,508 379.4,508.2 379.5,508.2 379.7,505 379.9,508.2 380,507.6 380.2,506.7 380.3,507.1 380.5,508.2 380.7,508.2 380.8,507.4 381,507.5 381.2,508.1 381.3,507 381.5,508.1 381.6,505.9 381.8,507.9 382,508.1 382.1,506.9 382.3,507.4 382.5,507.8 382.6,507.8 382.8,506.5 382.9,507.9 383.1,508.2 383.3,508.3 383.4,507.5 383.6,506.3 383.7,508 383.9,508.1 384.1,505.2 384.2,508.1 384.4,508.2 384.6,507.2 384.7,506.8 384.9,507.9 385,507 385.2,508.4 385.4,506.2 385.5,508.1 385.7,505.1 385.9,508.3 386,507.1 386.2,507.4 386.3,506.2 386.5,508 386.7,506.2 386.8,508.5 387,507.1 387.1,506.4 387.3,504.7 387.5,508.1 387.6,508.2 387.8,507.4 388,506.9 388.1,506.5 388.3,506.4 388.4,504.9 388.6,507.7 388.8,507.5 388.9,508.1 389.1,505.9 389.3,506.5 389.4,507.4 389.6,506.9 389.7,507.9 389.9,508.5 390.1,507.4 390.2,507.4 390.4,508.2 390.5,508.4 390.7,505.6 390.9,507.9 391,507.7 391.2,507 391.4,507.6 391.5,506.5 391.7,507.3 391.8,502 392,507.3 392.2,506.6 392.3,506.8 392.5,506.8 392.7,508.4 392.8,506.6 393,507.9 393.1,507.5 393.3,504.7 393.5,506.4 393.6,507.2 393.8,507.3 393.9,507.2 394.1,507.6 394.3,506.2 394.4,507.1 394.6,507 394.8,508.1 394.9,506.5 395.1,505.6 395.2,507.4 395.4,508.5 395.6,508.3 395.7,508.2 395.9,507.3 396.1,506.2 396.2,507.7 396.4,508.1 396.5,505.3 396.7,508 396.9,507 397,508.4 397.2,506.7 397.4,505 397.5,508.4 397.7,507.7 397.8,507.8 398,507.5 398.2,507.4 398.3,507.3 398.5,506.6 398.6,508 398.8,508.5 399,507.7 399.1,508.2 399.3,508.5 399.5,507.7 399.6,506.5 399.8,507.6 399.9,506.4 400.1,507.9 400.3,506.5 400.4,507.3 400.6,506.7 400.8,508.1 400.9,506.6 401.1,507.3 401.2,507.1 401.4,507.8 401.6,508.1 401.7,506.7 401.9,507.2 402,508.4 402.2,508.3 402.4,508.2 402.5,508.4 402.7,507.9 402.9,508.4 403,506.8 403.2,507.6 403.3,507.3 403.5,506.5 403.7,507.8 403.8,507.9 404,507.6 404.2,505.6 404.3,508.1 404.5,505.8 404.6,507.7 404.8,506.9 405,507.5 405.1,505.1 405.3,502 405.4,508.4 405.6,507.5 405.8,506.1 405.9,508.4 406.1,507.1 406.3,506.1 406.4,507.6 406.6,506 406.7,507 406.9,508 407.1,508.4 407.2,507.1 407.4,507.7 407.6,507.9 407.7,507.8 407.9,508 408,506.7 408.2,507.1 408.4,507.8 408.5,508.1 408.7,507.6 408.8,508.4 409,508 409.2,505.7 409.3,507.6 409.5,507.3 409.7,507.1 409.8,507.7 410,501.6 410.1,505.4 410.3,507.2 410.5,508.5 410.6,507.1 410.8,505.2 411,507.3 411.1,505.6 411.3,508.2 411.4,507.1 411.6,508.3 411.8,507.4 411.9,508.2 412.1,506.4 412.2,507.3 412.4,507.1 412.6,501.8 412.7,507.9 412.9,508.4 413.1,505.5 413.2,507.8 413.4,507.2 413.5,507.5 413.7,506.9 413.9,505.5 414,505.8 414.2,507.1 414.4,507.3 414.5,506.2 414.7,507.1 414.8,507.8 415,507.1" fill="none" stroke="#0000ff" stroke-width="0.75" stroke-linejoin="miter"/><line x1="39.5" y1="504.5" x2="415" y2="504.5" stroke="#ff0000" stroke-width="1.4"/><text class="tk" x="39.5" y="519.6" text-anchor="middle">0</text><text class="tk" x="120.5" y="519.6" text-anchor="middle">500</text><text class="tk" x="201.5" y="519.6" text-anchor="middle">1000</text><text class="tk" x="282.5" y="519.6" text-anchor="middle">1500</text><text class="tk" x="363.5" y="519.6" text-anchor="middle">2000</text><text class="tk" x="444.5" y="519.6" text-anchor="middle">2500</text><text class="tk" x="35.2" y="511.6" text-anchor="end">0</text><text class="tk" x="35.2" y="467.9" text-anchor="end">50</text><text class="tk" x="35.2" y="424.2" text-anchor="end">100</text><text class="tk" x="35.2" y="380.6" text-anchor="end">150</text><text class="tk" x="35.2" y="336.9" text-anchor="end">200</text><text class="tk" x="35.2" y="293.3" text-anchor="end">250</text><text class="ti" x="242" y="287.2" text-anchor="middle">VBGRU Estimated Error</text><text class="ti" transform="translate(17.2,426.7) rotate(-90)" style="font-size:10.4px">Error</text><text class="ti" transform="translate(17.2,405.4) rotate(-90)" style="font-family:'Noto Sans CJK SC',sans-serif;fill:#777;stroke:none">（</text><text class="ti" transform="translate(17.2,393.4) rotate(-90)" style="stroke:none;fill:#333">%</text><text class="ti" transform="translate(17.2,383.0) rotate(-90)" style="font-family:'Noto Sans CJK SC',sans-serif;fill:#777;stroke:none">）</text><line x1="121.4" y1="478.2" x2="121.4" y2="489.1" stroke="#222" stroke-width="1"/><path d="M121.4 497.1L117.9 488.1L121.4 489.3L124.9 488.1Z" fill="#000"/><line x1="150.4" y1="468.6" x2="150.4" y2="479.7" stroke="#222" stroke-width="1"/><path d="M150.4 487.7L146.9 478.7L150.4 479.9L153.9 478.7Z" fill="#000"/><line x1="185" y1="480.8" x2="185" y2="491.7" stroke="#222" stroke-width="1"/><path d="M185 499.7L181.5 490.7L185 491.9L188.5 490.7Z" fill="#000"/><text class="an" x="107.6" y="475.7">0.25m/s</text><text class="an" x="136.2" y="466.5">0.35m/s</text><text class="an" x="173.3" y="478.8">0.4m/s</text><line x1="284.5" y1="473.2" x2="251" y2="499.6" stroke="#ff2020" stroke-width="1"/><path d="M245.2 504.5L250.2 496.3L251.8 499.6L254.6 501.2Z" fill="#ff1a1a"/><text class="an" x="288" y="471.3" style="fill:#ff3030;stroke:#ff3030;font-weight:bold;stroke-width:0.1px">5%</text><text x="228.8" y="545.6" text-anchor="middle" style="font-family:'Liberation Serif',serif;font-size:12.2px;fill:#111;stroke:#111;stroke-width:0.25px">(<tspan font-weight="bold">b</tspan>)</text></svg></body></html>
